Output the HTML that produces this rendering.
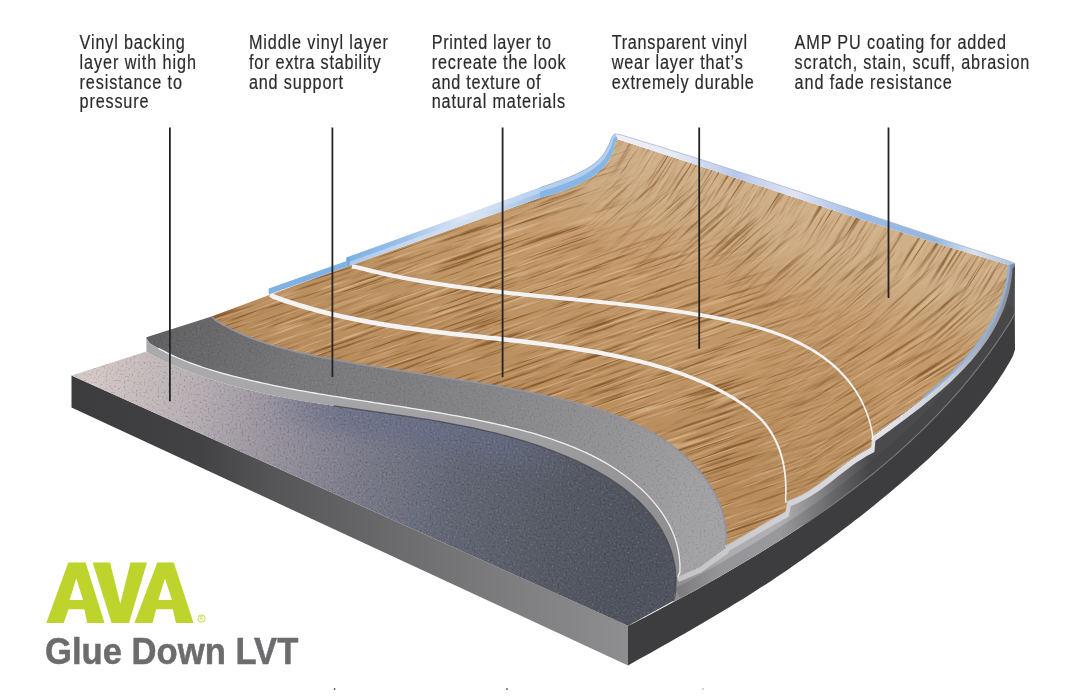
<!DOCTYPE html>
<html><head><meta charset="utf-8"><style>
html,body{margin:0;padding:0;background:#fff;width:1080px;height:699px;overflow:hidden}
svg{display:block}
</style></head><body>
<svg width="1080" height="699" viewBox="0 0 1080 699">
<rect width="1080" height="699" fill="#fff"/>
<defs>
<linearGradient id="gFront" x1="71" y1="0" x2="628" y2="0" gradientUnits="userSpaceOnUse">
 <stop offset="0" stop-color="#3c3c3e"/><stop offset="0.23" stop-color="#424244"/><stop offset="0.36" stop-color="#555557"/>
 <stop offset="0.59" stop-color="#6c6c6e"/><stop offset="0.77" stop-color="#7c7c7e"/><stop offset="1" stop-color="#8e8e90"/>
</linearGradient>
<linearGradient id="gSlabTop" x1="90" y1="380" x2="640" y2="500" gradientUnits="userSpaceOnUse">
 <stop offset="0" stop-color="rgb(212,200,197)"/><stop offset="0.19" stop-color="rgb(182,174,179)"/><stop offset="0.3" stop-color="rgb(160,153,163)"/>
 <stop offset="0.49" stop-color="rgb(125,125,140)"/><stop offset="0.67" stop-color="rgb(100,104,118)"/><stop offset="0.87" stop-color="rgb(86,90,100)"/>
 <stop offset="1" stop-color="rgb(80,84,94)"/>
</linearGradient>
<linearGradient id="gBlueBand" x1="260" y1="0" x2="580" y2="0" gradientUnits="userSpaceOnUse">
 <stop offset="0" stop-color="rgb(106,112,138)" stop-opacity="0"/><stop offset="0.25" stop-color="rgb(106,112,138)" stop-opacity="0.75"/>
 <stop offset="0.75" stop-color="rgb(102,108,134)" stop-opacity="0.7"/><stop offset="1" stop-color="rgb(96,102,124)" stop-opacity="0"/>
</linearGradient>
<filter id="blur8" x="-20%" y="-20%" width="140%" height="140%"><feGaussianBlur stdDeviation="9"/></filter>
<linearGradient id="gGreyTop" x1="150" y1="330" x2="700" y2="540" gradientUnits="userSpaceOnUse">
 <stop offset="0" stop-color="rgb(96,96,98)"/><stop offset="0.1" stop-color="rgb(105,105,107)"/><stop offset="0.27" stop-color="rgb(121,121,123)"/>
 <stop offset="0.45" stop-color="rgb(127,127,129)"/><stop offset="0.6" stop-color="rgb(135,135,137)"/><stop offset="0.78" stop-color="rgb(146,146,148)"/>
 <stop offset="0.95" stop-color="rgb(160,160,162)"/><stop offset="1" stop-color="rgb(163,163,165)"/>
</linearGradient>
<linearGradient id="gCut" x1="150" y1="0" x2="680" y2="0" gradientUnits="userSpaceOnUse">
 <stop offset="0" stop-color="rgb(170,170,172)"/><stop offset="0.3" stop-color="rgb(166,166,168)"/><stop offset="0.75" stop-color="rgb(158,158,160)"/><stop offset="1" stop-color="rgb(142,142,145)"/>
</linearGradient>
<linearGradient id="gWood" x1="707" y1="477" x2="800" y2="192" gradientUnits="userSpaceOnUse">
 <stop offset="0" stop-color="rgb(184,140,92)"/><stop offset="0.62" stop-color="rgb(197,155,108)"/><stop offset="0.84" stop-color="rgb(206,174,135)"/><stop offset="1" stop-color="rgb(209,178,140)"/>
</linearGradient>
<linearGradient id="gxL" x1="740" y1="0" x2="880" y2="0" gradientUnits="userSpaceOnUse"><stop offset="0" stop-color="#fff"/><stop offset="1" stop-color="#fff" stop-opacity="0"/></linearGradient>
<mask id="mxL" maskUnits="userSpaceOnUse" x="0" y="0" width="1080" height="699"><rect x="0" y="0" width="1080" height="699" fill="url(#gxL)"/></mask>
<linearGradient id="gxR" x1="740" y1="0" x2="880" y2="0" gradientUnits="userSpaceOnUse"><stop offset="0" stop-color="#fff" stop-opacity="0"/><stop offset="1" stop-color="#fff"/></linearGradient>
<mask id="mxR" maskUnits="userSpaceOnUse" x="0" y="0" width="1080" height="699"><rect x="0" y="0" width="1080" height="699" fill="url(#gxR)"/></mask>
<linearGradient id="gzA" x1="800" y1="192" x2="707" y2="477" gradientUnits="userSpaceOnUse"><stop offset="0" stop-color="#fff" stop-opacity="1"/><stop offset="0.067" stop-color="#fff" stop-opacity="1"/><stop offset="0.2" stop-color="#fff" stop-opacity="0"/></linearGradient>
<mask id="mzA" maskUnits="userSpaceOnUse" x="0" y="0" width="1080" height="699"><rect x="0" y="0" width="1080" height="699" fill="url(#gzA)"/></mask>
<linearGradient id="gzB" x1="800" y1="192" x2="707" y2="477" gradientUnits="userSpaceOnUse"><stop offset="0.067" stop-color="#fff" stop-opacity="0"/><stop offset="0.2" stop-color="#fff" stop-opacity="1"/><stop offset="0.267" stop-color="#fff" stop-opacity="1"/><stop offset="0.4" stop-color="#fff" stop-opacity="0"/></linearGradient>
<mask id="mzB" maskUnits="userSpaceOnUse" x="0" y="0" width="1080" height="699"><rect x="0" y="0" width="1080" height="699" fill="url(#gzB)"/></mask>
<linearGradient id="gzC" x1="800" y1="192" x2="707" y2="477" gradientUnits="userSpaceOnUse"><stop offset="0.267" stop-color="#fff" stop-opacity="0"/><stop offset="0.4" stop-color="#fff" stop-opacity="1"/><stop offset="0.5" stop-color="#fff" stop-opacity="1"/><stop offset="0.667" stop-color="#fff" stop-opacity="0"/></linearGradient>
<mask id="mzC" maskUnits="userSpaceOnUse" x="0" y="0" width="1080" height="699"><rect x="0" y="0" width="1080" height="699" fill="url(#gzC)"/></mask>
<linearGradient id="gzD" x1="800" y1="192" x2="707" y2="477" gradientUnits="userSpaceOnUse"><stop offset="0.5" stop-color="#fff" stop-opacity="0"/><stop offset="0.667" stop-color="#fff" stop-opacity="1"/></linearGradient>
<mask id="mzD" maskUnits="userSpaceOnUse" x="0" y="0" width="1080" height="699"><rect x="0" y="0" width="1080" height="699" fill="url(#gzD)"/></mask>

<linearGradient id="gSideDark" x1="680" y1="0" x2="1015" y2="0" gradientUnits="userSpaceOnUse">
 <stop offset="0" stop-color="#000" stop-opacity="0"/><stop offset="0.45" stop-color="#3a3a3c" stop-opacity="0.55"/><stop offset="1" stop-color="#3a3a3c" stop-opacity="0.85"/>
</linearGradient>
<linearGradient id="gSide" x1="680" y1="0" x2="1015" y2="0" gradientUnits="userSpaceOnUse">
 <stop offset="0" stop-color="#8e8e90"/><stop offset="0.12" stop-color="#acacb0"/><stop offset="0.3" stop-color="#b0b0b4"/><stop offset="0.36" stop-color="#9a9a9d"/><stop offset="0.48" stop-color="#6a6a6c"/><stop offset="0.57" stop-color="#4a4a4c"/><stop offset="1" stop-color="#4c4c4e"/>
</linearGradient>
<linearGradient id="gSilver" x1="680" y1="0" x2="1015" y2="0" gradientUnits="userSpaceOnUse">
 <stop offset="0" stop-color="#c4c4c8"/><stop offset="0.3" stop-color="#d0d0d4"/><stop offset="0.5" stop-color="#dcdce0"/><stop offset="0.62" stop-color="#e4e4e8"/><stop offset="0.8" stop-color="#c8ced8"/><stop offset="0.9" stop-color="#a4acba"/><stop offset="1" stop-color="#848c9a"/>
</linearGradient>
<linearGradient id="gTopStrip" x1="615" y1="0" x2="1014" y2="0" gradientUnits="userSpaceOnUse">
 <stop offset="0" stop-color="#eef0f6"/><stop offset="0.15" stop-color="#e6eaf4"/><stop offset="0.3" stop-color="#b8c8ec"/><stop offset="0.45" stop-color="#dfe4f4"/>
 <stop offset="0.62" stop-color="#9cbbe6"/><stop offset="0.8" stop-color="#93b6e2"/><stop offset="0.9" stop-color="#d6e0f0"/><stop offset="1" stop-color="#a8c2e6"/>
</linearGradient>
<linearGradient id="gBackLo" x1="347" y1="0" x2="540" y2="0" gradientUnits="userSpaceOnUse">
 <stop offset="0" stop-color="#a9c8ec"/><stop offset="0.35" stop-color="#c8daf2"/><stop offset="0.7" stop-color="#d4e0f2"/><stop offset="1" stop-color="#9cc0ea"/>
</linearGradient>
<linearGradient id="gBackHi" x1="347" y1="0" x2="540" y2="0" gradientUnits="userSpaceOnUse">
 <stop offset="0" stop-color="#7cb0e2"/><stop offset="0.3" stop-color="#9cc0ea"/><stop offset="0.6" stop-color="#dce6f4"/><stop offset="1" stop-color="#b8d0f0"/>
</linearGradient>
<filter id="noise" x="0" y="0" width="100%" height="100%" color-interpolation-filters="sRGB">
 <feTurbulence type="fractalNoise" baseFrequency="0.5" numOctaves="3" seed="3" result="t"/>
 <feColorMatrix in="t" type="matrix" values="0 0 0 0 1  0 0 0 0 1  0 0 0 0 1  2.4 0 0 0 -1.45" result="lt"/>
 <feColorMatrix in="t" type="matrix" values="0 0 0 0 0  0 0 0 0 0  0 0 0 0 0  -2.6 0 0 0 1.15" result="dk"/>
 <feMerge result="m"><feMergeNode in="lt"/><feMergeNode in="dk"/></feMerge>
 <feComposite in="m" in2="SourceGraphic" operator="in"/>
</filter>
<filter id="grain" x="0" y="0" width="100%" height="100%" color-interpolation-filters="sRGB">
 <feTurbulence type="fractalNoise" baseFrequency="0.011 0.42" numOctaves="4" seed="7"/>
 <feColorMatrix type="matrix" values="0 0 0 0 0.47  0 0 0 0 0.29  0 0 0 0 0.12  5 0 0 0 -2.72"/>
 <feComposite in2="SourceGraphic" operator="in"/>
</filter>
<filter id="grainL" x="0" y="0" width="100%" height="100%" color-interpolation-filters="sRGB">
 <feTurbulence type="fractalNoise" baseFrequency="0.012 0.5" numOctaves="3" seed="11"/>
 <feColorMatrix type="matrix" values="0 0 0 0 0.88  0 0 0 0 0.76  0 0 0 0 0.60  -5 0 0 0 2.2"/>
 <feComposite in2="SourceGraphic" operator="in"/>
</filter>

<clipPath id="cWood"><path d="M211.5,316.5 L216.0,320.8 L221.1,323.8 L226.3,326.7 L231.6,329.4 L237.0,332.0 L242.5,334.5 L248.0,336.8 L253.6,339.0 L259.3,341.0 L265.1,343.0 L270.9,344.9 L276.8,346.6 L282.7,348.3 L288.6,349.9 L294.6,351.4 L300.6,352.8 L306.6,354.1 L312.6,355.4 L318.7,356.7 L324.7,357.9 L330.7,359.0 L336.7,360.2 L342.7,361.3 L348.7,362.3 L354.7,363.4 L360.7,364.4 L366.6,365.4 L372.6,366.4 L378.5,367.3 L384.4,368.3 L390.3,369.2 L396.2,370.2 L402.1,371.1 L408.0,372.0 L413.9,372.9 L419.8,373.8 L425.7,374.7 L431.6,375.6 L437.5,376.5 L443.4,377.4 L449.3,378.3 L455.2,379.2 L461.1,380.2 L467.0,381.1 L472.9,382.1 L478.9,383.1 L484.8,384.1 L490.7,385.1 L496.7,386.1 L502.7,387.2 L508.6,388.3 L514.6,389.4 L520.7,390.6 L526.7,391.8 L532.7,393.0 L538.8,394.2 L544.8,395.5 L550.9,396.9 L557.0,398.3 L563.1,399.7 L569.1,401.2 L575.2,402.8 L581.2,404.5 L587.2,406.2 L593.1,408.0 L599.0,409.8 L604.9,411.8 L610.7,413.9 L616.5,416.0 L622.2,418.3 L627.8,420.6 L633.3,423.1 L638.8,425.7 L644.2,428.4 L649.4,431.2 L654.6,434.1 L659.7,437.2 L664.7,440.4 L669.5,443.8 L674.3,447.3 L678.9,451.0 L683.3,454.8 L687.7,458.7 L691.9,462.9 L695.9,467.2 L699.8,471.7 L703.5,476.3 L707.0,481.1 L710.3,486.1 L713.4,491.3 L716.2,496.6 L718.7,502.1 L720.9,507.8 L722.7,513.6 L724.2,519.6 L725.3,525.7 L726.0,532.0 L726.3,538.5 L725.8,544.4 L726.0,545.6 L732.0,542.2 L737.9,538.8 L743.8,535.4 L749.8,531.9 L755.7,528.5 L761.6,525.0 L767.6,521.6 L773.5,518.2 L779.5,514.8 L785.5,511.5 L787.5,500.9 L795.3,497.7 L802.8,494.0 L809.9,489.8 L816.8,485.2 L823.5,480.3 L830.1,475.3 L836.6,470.2 L843.2,465.1 L849.8,460.1 L856.6,455.4 L863.7,451.0 L871.0,447.0 L872.0,436.0 L876.1,433.4 L879.6,430.8 L883.2,428.1 L886.9,425.5 L890.5,422.8 L894.2,420.1 L897.9,417.4 L901.6,414.6 L905.3,411.9 L909.0,409.0 L912.8,406.2 L916.5,403.3 L920.2,400.4 L923.8,397.5 L927.5,394.5 L931.1,391.5 L934.7,388.5 L938.3,385.4 L941.8,382.3 L945.3,379.2 L948.8,376.0 L952.2,372.7 L955.5,369.4 L958.8,366.1 L962.1,362.7 L965.2,359.3 L968.3,355.9 L971.3,352.3 L974.2,348.8 L977.1,345.1 L979.8,341.5 L982.5,337.7 L985.1,334.0 L987.5,330.1 L989.9,326.2 L992.1,322.3 L994.2,318.2 L996.2,314.1 L998.1,310.0 L999.9,305.8 L1001.5,301.5 L1003.0,297.2 L1004.3,292.8 L1005.5,288.3 L1006.5,283.7 L1007.4,279.1 L1008.1,274.4 L1008.7,269.7 L1008.7,265.0 L1008.7,265.0 L1002.1,262.9 L995.4,260.9 L988.7,259.0 L982.0,257.0 L975.4,255.0 L968.7,253.0 L962.0,251.0 L955.4,249.0 L948.7,246.9 L942.1,244.9 L935.4,242.8 L928.8,240.8 L922.2,238.7 L915.5,236.6 L908.9,234.5 L902.2,232.4 L895.6,230.3 L889.0,228.2 L882.4,226.1 L875.7,224.0 L869.1,221.8 L862.5,219.7 L855.9,217.6 L849.3,215.4 L842.6,213.2 L836.0,211.1 L829.4,208.9 L822.8,206.8 L816.2,204.6 L809.6,202.4 L803.0,200.2 L796.4,198.0 L789.8,195.9 L783.2,193.7 L776.6,191.5 L770.0,189.3 L763.4,187.1 L756.8,184.9 L750.2,182.7 L743.5,180.5 L736.9,178.4 L730.3,176.2 L723.7,174.0 L717.1,171.8 L710.5,169.6 L703.9,167.4 L697.3,165.2 L690.7,163.1 L684.1,160.9 L677.5,158.7 L670.9,156.6 L664.3,154.4 L657.6,152.2 L651.0,150.1 L644.4,147.9 L637.8,145.8 L631.2,143.7 L624.6,141.5 L617.9,139.5 L617.9,139.5 C617.5,139.9 616.5,139.5 615.6,142.0 C614.7,144.5 614.3,150.1 612.2,154.4 C610.1,158.7 607.4,163.6 603.0,168.0 C598.6,172.4 592.5,176.9 585.8,180.7 C579.1,184.5 570.5,188.1 562.9,191.0 C555.3,193.9 543.8,196.8 540.0,197.9 L540.0,197.9 L346.6,266.7 L268.7,295.3 L211.5,316.5 Z"/></clipPath>
<clipPath id="cSlabTop"><path d="M71.5,375.5 L146.4,351.5 L146.4,351.5 L150.5,354.3 L155.4,356.8 L160.2,359.1 L165.1,361.4 L170.0,363.6 L174.9,365.8 L179.9,367.9 L184.8,369.9 L189.8,371.8 L194.8,373.7 L199.8,375.5 L204.8,377.2 L209.8,378.9 L214.9,380.5 L219.9,382.0 L225.0,383.6 L230.1,385.0 L235.2,386.4 L240.3,387.8 L245.4,389.1 L250.5,390.3 L255.7,391.5 L260.8,392.7 L266.0,393.9 L271.2,395.0 L276.3,396.0 L281.5,397.0 L286.7,398.0 L291.9,399.0 L297.2,399.9 L302.4,400.9 L307.6,401.7 L312.8,402.6 L318.1,403.4 L323.3,404.3 L328.6,405.1 L333.8,405.9 L339.1,406.6 L344.3,407.4 L349.6,408.2 L354.8,408.9 L360.1,409.7 L365.4,410.4 L370.6,411.1 L375.9,411.9 L381.2,412.6 L386.4,413.4 L391.7,414.1 L397.0,414.9 L402.2,415.6 L407.5,416.4 L412.7,417.2 L418.0,418.0 L423.2,418.8 L428.5,419.7 L433.7,420.5 L439.0,421.4 L444.2,422.3 L449.4,423.3 L454.6,424.3 L459.8,425.3 L465.0,426.3 L470.2,427.3 L475.4,428.4 L480.6,429.6 L485.8,430.8 L490.9,432.0 L496.1,433.2 L501.2,434.5 L506.3,435.9 L511.5,437.3 L516.6,438.8 L521.7,440.3 L526.7,441.8 L531.8,443.5 L536.9,445.1 L541.9,446.9 L546.9,448.7 L551.9,450.6 L556.9,452.5 L561.9,454.5 L566.9,456.6 L571.8,458.7 L576.7,460.9 L581.6,463.2 L586.4,465.6 L591.2,468.1 L596.0,470.6 L600.6,473.2 L605.3,476.0 L609.8,478.8 L614.2,481.7 L618.6,484.7 L622.9,487.8 L627.0,491.0 L631.1,494.4 L635.0,497.8 L638.8,501.3 L642.5,505.0 L646.0,508.8 L649.4,512.6 L652.6,516.7 L655.7,520.8 L658.6,525.1 L661.3,529.4 L663.9,534.0 L666.2,538.6 L668.3,543.3 L670.2,548.2 L671.9,553.2 L673.3,558.2 L674.4,563.4 L675.3,568.7 L675.8,574.1 L676.1,579.5 L676.0,585.1 L675.6,590.7 L674.9,596.4 L673.2,601.0 L628.0,625.8 Z"/></clipPath>
<clipPath id="cGreyTop"><path d="M146.4,337.2 L211.5,316.5 L211.5,316.5 L216.0,320.8 L221.1,323.8 L226.3,326.7 L231.6,329.4 L237.0,332.0 L242.5,334.5 L248.0,336.8 L253.6,339.0 L259.3,341.0 L265.1,343.0 L270.9,344.9 L276.8,346.6 L282.7,348.3 L288.6,349.9 L294.6,351.4 L300.6,352.8 L306.6,354.1 L312.6,355.4 L318.7,356.7 L324.7,357.9 L330.7,359.0 L336.7,360.2 L342.7,361.3 L348.7,362.3 L354.7,363.4 L360.7,364.4 L366.6,365.4 L372.6,366.4 L378.5,367.3 L384.4,368.3 L390.3,369.2 L396.2,370.2 L402.1,371.1 L408.0,372.0 L413.9,372.9 L419.8,373.8 L425.7,374.7 L431.6,375.6 L437.5,376.5 L443.4,377.4 L449.3,378.3 L455.2,379.2 L461.1,380.2 L467.0,381.1 L472.9,382.1 L478.9,383.1 L484.8,384.1 L490.7,385.1 L496.7,386.1 L502.7,387.2 L508.6,388.3 L514.6,389.4 L520.7,390.6 L526.7,391.8 L532.7,393.0 L538.8,394.2 L544.8,395.5 L550.9,396.9 L557.0,398.3 L563.1,399.7 L569.1,401.2 L575.2,402.8 L581.2,404.5 L587.2,406.2 L593.1,408.0 L599.0,409.8 L604.9,411.8 L610.7,413.9 L616.5,416.0 L622.2,418.3 L627.8,420.6 L633.3,423.1 L638.8,425.7 L644.2,428.4 L649.4,431.2 L654.6,434.1 L659.7,437.2 L664.7,440.4 L669.5,443.8 L674.3,447.3 L678.9,451.0 L683.3,454.8 L687.7,458.7 L691.9,462.9 L695.9,467.2 L699.8,471.7 L703.5,476.3 L707.0,481.1 L710.3,486.1 L713.4,491.3 L716.2,496.6 L718.7,502.1 L720.9,507.8 L722.7,513.6 L724.2,519.6 L725.3,525.7 L726.0,532.0 L726.3,538.5 L725.8,544.4 L725.6,548.4 L700,567.2 L677.8,577 L677.8,577.0 L679.9,572.1 L680.0,566.5 L679.7,561.0 L679.1,555.6 L678.2,550.3 L677.1,545.1 L675.6,540.1 L673.9,535.2 L671.9,530.4 L669.7,525.8 L667.2,521.2 L664.6,516.8 L661.7,512.5 L658.7,508.4 L655.6,504.3 L652.2,500.4 L648.8,496.6 L645.2,492.9 L641.5,489.3 L637.7,485.9 L633.8,482.5 L629.8,479.3 L625.8,476.2 L621.6,473.2 L617.4,470.3 L613.1,467.5 L608.7,464.8 L604.3,462.1 L599.7,459.6 L595.1,457.2 L590.5,454.9 L585.8,452.6 L581.0,450.5 L576.2,448.4 L571.3,446.4 L566.4,444.4 L561.4,442.6 L556.4,440.8 L551.4,439.0 L546.3,437.4 L541.2,435.8 L536.1,434.2 L530.9,432.7 L525.8,431.3 L520.6,429.9 L515.4,428.6 L510.2,427.3 L505.0,426.0 L499.7,424.8 L494.5,423.6 L489.3,422.5 L484.1,421.4 L478.9,420.3 L473.7,419.2 L468.5,418.2 L463.3,417.2 L458.1,416.2 L452.9,415.3 L447.7,414.4 L442.5,413.4 L437.4,412.5 L432.2,411.7 L427.0,410.8 L421.9,410.0 L416.7,409.1 L411.5,408.3 L406.4,407.5 L401.2,406.7 L396.1,405.9 L391.0,405.1 L385.8,404.3 L380.7,403.5 L375.5,402.8 L370.4,402.0 L365.3,401.2 L360.2,400.4 L355.0,399.6 L349.9,398.8 L344.8,398.0 L339.6,397.2 L334.5,396.4 L329.4,395.6 L324.3,394.7 L319.2,393.9 L314.0,393.0 L308.9,392.1 L303.8,391.2 L298.7,390.3 L293.6,389.3 L288.4,388.4 L283.3,387.4 L278.2,386.4 L273.1,385.3 L267.9,384.2 L262.8,383.1 L257.7,382.0 L252.6,380.8 L247.4,379.6 L242.3,378.4 L237.2,377.1 L232.0,375.8 L226.9,374.5 L221.8,373.1 L216.7,371.6 L211.6,370.1 L206.5,368.5 L201.5,366.9 L196.5,365.1 L191.6,363.3 L186.6,361.5 L181.8,359.5 L177.0,357.5 L172.2,355.3 L167.5,353.1 L162.9,350.7 L158.3,348.3 L153.8,345.7 L149.4,343.0 L146.4,338.6 Z"/></clipPath>
</defs>
<path d="M71.5,375.5 L628.0,625.8 L628.0,665.5 L71.5,407.5 Z" fill="url(#gFront)"/>
<path d="M628.0,625.8 L634.0,623.0 L639.6,620.1 L645.2,617.2 L650.8,614.2 L656.4,611.3 L661.9,608.3 L667.5,605.3 L673.1,602.3 L678.7,599.3 L684.3,596.3 L689.9,593.2 L695.5,590.2 L701.1,587.1 L706.6,584.0 L712.2,580.8 L717.8,577.7 L723.3,574.5 L728.9,571.3 L734.4,568.1 L739.9,564.8 L745.4,561.6 L750.9,558.3 L756.4,554.9 L761.9,551.6 L767.4,548.2 L772.8,544.8 L778.2,541.4 L783.6,537.9 L789.0,534.5 L794.4,530.9 L799.8,527.4 L805.1,523.8 L810.4,520.2 L815.7,516.6 L820.9,512.9 L826.2,509.2 L831.4,505.5 L836.6,501.7 L841.7,498.0 L846.8,494.1 L851.9,490.3 L857.0,486.4 L862.1,482.4 L867.1,478.5 L872.0,474.5 L877.0,470.4 L881.9,466.3 L886.8,462.2 L891.6,458.1 L896.4,453.9 L901.2,449.7 L905.9,445.4 L910.6,441.1 L915.2,436.7 L919.8,432.3 L924.4,427.9 L928.9,423.4 L933.3,418.9 L937.8,414.3 L942.2,409.7 L946.5,405.0 L950.8,400.4 L955.0,395.6 L959.2,390.8 L963.4,386.0 L967.4,381.1 L971.5,376.2 L975.5,371.2 L979.4,366.2 L983.3,361.1 L987.1,356.0 L990.9,350.8 L994.6,345.6 L998.2,340.3 L1001.8,334.9 L1005.3,329.6 L1008.8,324.1 L1012.2,318.6 L1014.8,312.9 L1015.0,349.4 L1013.1,355.6 L1010.1,361.2 L1006.8,366.8 L1003.5,372.2 L1000.0,377.6 L996.4,382.9 L992.8,388.1 L989.0,393.2 L985.1,398.3 L981.2,403.3 L977.1,408.2 L973.0,413.1 L968.8,417.9 L964.5,422.7 L960.2,427.4 L955.8,432.0 L951.3,436.6 L946.8,441.2 L942.3,445.7 L937.6,450.1 L933.0,454.5 L928.3,458.9 L923.5,463.2 L918.7,467.5 L913.9,471.8 L909.1,476.0 L904.2,480.2 L899.3,484.4 L894.4,488.5 L889.5,492.7 L884.6,496.8 L879.6,500.8 L874.6,504.9 L869.6,508.9 L864.6,512.9 L859.6,516.9 L854.5,520.8 L849.5,524.7 L844.4,528.6 L839.3,532.5 L834.2,536.3 L829.0,540.2 L823.9,544.0 L818.7,547.7 L813.5,551.5 L808.3,555.2 L803.1,559.0 L797.9,562.6 L792.6,566.3 L787.4,569.9 L782.1,573.5 L776.8,577.1 L771.4,580.7 L766.1,584.2 L760.7,587.6 L755.3,591.1 L749.9,594.5 L744.5,597.9 L739.1,601.3 L733.6,604.6 L728.1,608.0 L722.6,611.3 L717.1,614.6 L711.6,617.8 L706.1,621.1 L700.6,624.3 L695.0,627.5 L689.5,630.7 L683.9,633.9 L678.3,637.1 L672.8,640.3 L667.2,643.4 L661.6,646.6 L656.0,649.7 L650.4,652.9 L644.8,656.0 L639.2,659.1 L633.6,662.3 L628.0,665.5 Z" fill="#3d3d3f"/>
<path d="M71.5,375.5 L146.4,351.5 L146.4,351.5 L150.5,354.3 L155.4,356.8 L160.2,359.1 L165.1,361.4 L170.0,363.6 L174.9,365.8 L179.9,367.9 L184.8,369.9 L189.8,371.8 L194.8,373.7 L199.8,375.5 L204.8,377.2 L209.8,378.9 L214.9,380.5 L219.9,382.0 L225.0,383.6 L230.1,385.0 L235.2,386.4 L240.3,387.8 L245.4,389.1 L250.5,390.3 L255.7,391.5 L260.8,392.7 L266.0,393.9 L271.2,395.0 L276.3,396.0 L281.5,397.0 L286.7,398.0 L291.9,399.0 L297.2,399.9 L302.4,400.9 L307.6,401.7 L312.8,402.6 L318.1,403.4 L323.3,404.3 L328.6,405.1 L333.8,405.9 L339.1,406.6 L344.3,407.4 L349.6,408.2 L354.8,408.9 L360.1,409.7 L365.4,410.4 L370.6,411.1 L375.9,411.9 L381.2,412.6 L386.4,413.4 L391.7,414.1 L397.0,414.9 L402.2,415.6 L407.5,416.4 L412.7,417.2 L418.0,418.0 L423.2,418.8 L428.5,419.7 L433.7,420.5 L439.0,421.4 L444.2,422.3 L449.4,423.3 L454.6,424.3 L459.8,425.3 L465.0,426.3 L470.2,427.3 L475.4,428.4 L480.6,429.6 L485.8,430.8 L490.9,432.0 L496.1,433.2 L501.2,434.5 L506.3,435.9 L511.5,437.3 L516.6,438.8 L521.7,440.3 L526.7,441.8 L531.8,443.5 L536.9,445.1 L541.9,446.9 L546.9,448.7 L551.9,450.6 L556.9,452.5 L561.9,454.5 L566.9,456.6 L571.8,458.7 L576.7,460.9 L581.6,463.2 L586.4,465.6 L591.2,468.1 L596.0,470.6 L600.6,473.2 L605.3,476.0 L609.8,478.8 L614.2,481.7 L618.6,484.7 L622.9,487.8 L627.0,491.0 L631.1,494.4 L635.0,497.8 L638.8,501.3 L642.5,505.0 L646.0,508.8 L649.4,512.6 L652.6,516.7 L655.7,520.8 L658.6,525.1 L661.3,529.4 L663.9,534.0 L666.2,538.6 L668.3,543.3 L670.2,548.2 L671.9,553.2 L673.3,558.2 L674.4,563.4 L675.3,568.7 L675.8,574.1 L676.1,579.5 L676.0,585.1 L675.6,590.7 L674.9,596.4 L673.2,601.0 L628.0,625.8 Z" fill="url(#gSlabTop)"/>
<g clip-path="url(#cSlabTop)"><path d="M250.5,394.3 L255.7,395.5 L260.8,396.7 L266.0,397.9 L271.2,399.0 L276.3,400.0 L281.5,401.0 L286.7,402.0 L291.9,403.0 L297.2,403.9 L302.4,404.9 L307.6,405.7 L312.8,406.6 L318.1,407.4 L323.3,408.3 L328.6,409.1 L333.8,409.9 L339.1,410.6 L344.3,411.4 L349.6,412.2 L354.8,412.9 L360.1,413.7 L365.4,414.4 L370.6,415.1 L375.9,415.9 L381.2,416.6 L386.4,417.4 L391.7,418.1 L397.0,418.9 L402.2,419.6 L407.5,420.4 L412.7,421.2 L418.0,422.0 L423.2,422.8 L428.5,423.7 L433.7,424.5 L439.0,425.4 L444.2,426.3 L449.4,427.3 L454.6,428.3 L459.8,429.3 L465.0,430.3 L470.2,431.3 L475.4,432.4 L480.6,433.6 L485.8,434.8 L490.9,436.0 L496.1,437.2 L501.2,438.5 L506.3,439.9 L511.5,441.3 L516.6,442.8 L521.7,444.3 L526.7,445.8 L531.8,447.5 L536.9,449.1 L541.9,450.9 L546.9,452.7 L551.9,454.6 L556.9,456.5 L561.9,458.5 L566.9,460.6 L571.8,462.7 L576.7,464.9 L581.6,467.2 L586.4,469.6 L591.2,472.1 L596.0,474.6" fill="none" stroke="url(#gBlueBand)" stroke-width="44" filter="url(#blur8)"/></g>
<g clip-path="url(#cSlabTop)"><rect x="60" y="330" width="640" height="310" filter="url(#noise)" opacity="0.26"/></g>
<defs><clipPath id="cSide"><path d="M677.8,577.0 L700.0,567.5 L725.2,549.2 L726.0,545.6 L732.0,542.2 L737.9,538.8 L743.8,535.4 L749.8,531.9 L755.7,528.5 L761.6,525.0 L767.6,521.6 L773.5,518.2 L779.5,514.8 L785.5,511.5 L787.5,500.9 L795.3,497.7 L802.8,494.0 L809.9,489.8 L816.8,485.2 L823.5,480.3 L830.1,475.3 L836.6,470.2 L843.2,465.1 L849.8,460.1 L856.6,455.4 L863.7,451.0 L871.0,447.0 L872.0,436.0 L876.1,433.4 L879.6,430.8 L883.2,428.1 L886.9,425.5 L890.5,422.8 L894.2,420.1 L897.9,417.4 L901.6,414.6 L905.3,411.9 L909.0,409.0 L912.8,406.2 L916.5,403.3 L920.2,400.4 L923.8,397.5 L927.5,394.5 L931.1,391.5 L934.7,388.5 L938.3,385.4 L941.8,382.3 L945.3,379.2 L948.8,376.0 L952.2,372.7 L955.5,369.4 L958.8,366.1 L962.1,362.7 L965.2,359.3 L968.3,355.9 L971.3,352.3 L974.2,348.8 L977.1,345.1 L979.8,341.5 L982.5,337.7 L985.1,334.0 L987.5,330.1 L989.9,326.2 L992.1,322.3 L994.2,318.2 L996.2,314.1 L998.1,310.0 L999.9,305.8 L1001.5,301.5 L1003.0,297.2 L1004.3,292.8 L1005.5,288.3 L1006.5,283.7 L1007.4,279.1 L1008.1,274.4 L1008.7,269.7 L1008.7,265.0 L1014,263 L1015,263 L1014.8,312.9 L1012.2,318.6 L1008.8,324.1 L1005.3,329.6 L1001.8,334.9 L998.2,340.3 L994.6,345.6 L990.9,350.8 L987.1,356.0 L983.3,361.1 L979.4,366.2 L975.5,371.2 L971.5,376.2 L967.4,381.1 L963.4,386.0 L959.2,390.8 L955.0,395.6 L950.8,400.4 L946.5,405.0 L942.2,409.7 L937.8,414.3 L933.3,418.9 L928.9,423.4 L924.4,427.9 L919.8,432.3 L915.2,436.7 L910.6,441.1 L905.9,445.4 L901.2,449.7 L896.4,453.9 L891.6,458.1 L886.8,462.2 L881.9,466.3 L877.0,470.4 L872.0,474.5 L867.1,478.5 L862.1,482.4 L857.0,486.4 L851.9,490.3 L846.8,494.1 L841.7,498.0 L836.6,501.7 L831.4,505.5 L826.2,509.2 L820.9,512.9 L815.7,516.6 L810.4,520.2 L805.1,523.8 L799.8,527.4 L794.4,530.9 L789.0,534.5 L783.6,537.9 L778.2,541.4 L772.8,544.8 L767.4,548.2 L761.9,551.6 L756.4,554.9 L750.9,558.3 L745.4,561.6 L739.9,564.8 L734.4,568.1 L728.9,571.3 L723.3,574.5 L717.8,577.7 L712.2,580.8 L706.6,584.0 L701.1,587.1 L695.5,590.2 L689.9,593.2 L684.3,596.3 L678.7,599.3 L673.2,602.0 Z"/></clipPath></defs>
<path d="M677.8,577.0 L700.0,567.5 L725.2,549.2 L726.0,545.6 L732.0,542.2 L737.9,538.8 L743.8,535.4 L749.8,531.9 L755.7,528.5 L761.6,525.0 L767.6,521.6 L773.5,518.2 L779.5,514.8 L785.5,511.5 L787.5,500.9 L795.3,497.7 L802.8,494.0 L809.9,489.8 L816.8,485.2 L823.5,480.3 L830.1,475.3 L836.6,470.2 L843.2,465.1 L849.8,460.1 L856.6,455.4 L863.7,451.0 L871.0,447.0 L872.0,436.0 L876.1,433.4 L879.6,430.8 L883.2,428.1 L886.9,425.5 L890.5,422.8 L894.2,420.1 L897.9,417.4 L901.6,414.6 L905.3,411.9 L909.0,409.0 L912.8,406.2 L916.5,403.3 L920.2,400.4 L923.8,397.5 L927.5,394.5 L931.1,391.5 L934.7,388.5 L938.3,385.4 L941.8,382.3 L945.3,379.2 L948.8,376.0 L952.2,372.7 L955.5,369.4 L958.8,366.1 L962.1,362.7 L965.2,359.3 L968.3,355.9 L971.3,352.3 L974.2,348.8 L977.1,345.1 L979.8,341.5 L982.5,337.7 L985.1,334.0 L987.5,330.1 L989.9,326.2 L992.1,322.3 L994.2,318.2 L996.2,314.1 L998.1,310.0 L999.9,305.8 L1001.5,301.5 L1003.0,297.2 L1004.3,292.8 L1005.5,288.3 L1006.5,283.7 L1007.4,279.1 L1008.1,274.4 L1008.7,269.7 L1008.7,265.0 L1014,263 L1015,263 L1014.8,312.9 L1012.2,318.6 L1008.8,324.1 L1005.3,329.6 L1001.8,334.9 L998.2,340.3 L994.6,345.6 L990.9,350.8 L987.1,356.0 L983.3,361.1 L979.4,366.2 L975.5,371.2 L971.5,376.2 L967.4,381.1 L963.4,386.0 L959.2,390.8 L955.0,395.6 L950.8,400.4 L946.5,405.0 L942.2,409.7 L937.8,414.3 L933.3,418.9 L928.9,423.4 L924.4,427.9 L919.8,432.3 L915.2,436.7 L910.6,441.1 L905.9,445.4 L901.2,449.7 L896.4,453.9 L891.6,458.1 L886.8,462.2 L881.9,466.3 L877.0,470.4 L872.0,474.5 L867.1,478.5 L862.1,482.4 L857.0,486.4 L851.9,490.3 L846.8,494.1 L841.7,498.0 L836.6,501.7 L831.4,505.5 L826.2,509.2 L820.9,512.9 L815.7,516.6 L810.4,520.2 L805.1,523.8 L799.8,527.4 L794.4,530.9 L789.0,534.5 L783.6,537.9 L778.2,541.4 L772.8,544.8 L767.4,548.2 L761.9,551.6 L756.4,554.9 L750.9,558.3 L745.4,561.6 L739.9,564.8 L734.4,568.1 L728.9,571.3 L723.3,574.5 L717.8,577.7 L712.2,580.8 L706.6,584.0 L701.1,587.1 L695.5,590.2 L689.9,593.2 L684.3,596.3 L678.7,599.3 L673.2,602.0 Z" fill="url(#gSide)"/>
<path d="M677.5,593.3 L683.1,590.3 L688.7,587.2 L694.3,584.2 L699.9,581.1 L705.4,578.0 L711.0,574.8 L716.6,571.7 L722.1,568.5 L727.7,565.3 L733.2,562.1 L738.7,558.8 L744.2,555.6 L749.7,552.3 L755.2,548.9 L760.7,545.6 L766.2,542.2 L771.6,538.8 L777.0,535.4 L782.4,531.9 L787.8,528.5 L793.2,524.9 L798.6,521.4 L803.9,517.8 L809.2,514.2 L814.5,510.6 L819.7,506.9 L825.0,503.2 L830.2,499.5 L835.4,495.7 L840.5,492.0 L845.6,488.1 L850.7,484.3 L855.8,480.4 L860.9,476.4 L865.9,472.5 L870.8,468.5 L875.8,464.4 L880.7,460.3 L885.6,456.2 L890.4,452.1 L895.2,447.9 L900.0,443.7 L904.7,439.4 L909.4,435.1 L914.0,430.7 L918.6,426.3 L923.2,421.9 L927.7,417.4 L932.1,412.9 L936.6,408.3 L941.0,403.7 L945.3,399.0 L949.6,394.4 L953.8,389.6 L958.0,384.8 L962.2,380.0 L966.2,375.1 L970.3,370.2 L974.3,365.2 L978.2,360.2 L982.1,355.1 L985.9,350.0 L989.7,344.8 L993.4,339.6 L997.0,334.3 L1000.6,328.9 L1004.1,323.6 L1007.6,318.1 L1011.0,312.6 L1013.6,306.9" fill="none" stroke="#303034" stroke-width="11" opacity="0.18" clip-path="url(#cSide)"/>
<path d="M805.1,523.8 L810.4,520.2 L815.7,516.6 L820.9,512.9 L826.2,509.2 L831.4,505.5 L836.6,501.7 L841.7,498.0 L846.8,494.1 L851.9,490.3 L857.0,486.4 L862.1,482.4 L867.1,478.5 L872.0,474.5 L877.0,470.4 L881.9,466.3 L886.8,462.2 L891.6,458.1 L896.4,453.9 L901.2,449.7 L905.9,445.4 L910.6,441.1 L915.2,436.7 L919.8,432.3 L924.4,427.9 L928.9,423.4 L933.3,418.9 L937.8,414.3 L942.2,409.7 L946.5,405.0 L950.8,400.4 L955.0,395.6 L959.2,390.8 L963.4,386.0 L967.4,381.1 L971.5,376.2 L975.5,371.2 L979.4,366.2 L983.3,361.1 L987.1,356.0 L990.9,350.8 L994.6,345.6 L998.2,340.3 L1001.8,334.9 L1005.3,329.6 L1008.8,324.1 L1012.2,318.6 L1014.8,312.9" fill="none" stroke="#77777a" stroke-width="1.1"/>
<path d="M677.8,579.5 L700.0,569.8 L725.8,551.5 L726.8,548.8 L732.8,545.4 L738.7,542.0 L744.6,538.6 L750.6,535.1 L756.5,531.7 L762.4,528.2 L768.4,524.8 L774.3,521.4 L780.3,518.0 L786.3,514.7 L788.3,504.1 L796.1,500.9 L803.6,497.2 L810.7,493.0 L817.6,488.4 L824.3,483.5 L830.9,478.5 L837.4,473.4 L844.0,468.3 L850.6,463.3 L857.4,458.6 L864.5,454.2 L871.8,450.2 L872.8,439.2 L876.9,436.6 L880.4,434.0 L884.0,431.3 L887.7,428.7 L891.3,426.0 L895.0,423.3 L898.7,420.6 L902.4,417.8 L906.1,415.1 L909.8,412.2 L913.6,409.4 L917.3,406.5 L921.0,403.6 L924.6,400.7 L928.3,397.7 L931.9,394.7 L935.5,391.7 L939.1,388.6 L942.6,385.5 L946.1,382.4 L949.6,379.2 L953.0,375.9 L956.3,372.6 L959.6,369.3 L962.9,365.9 L966.0,362.5 L969.1,359.1 L972.1,355.5 L975.0,352.0 L977.9,348.3 L980.6,344.7 L983.3,340.9 L985.9,337.2 L988.3,333.3 L990.7,329.4 L992.9,325.5 L995.0,321.4 L997.0,317.3 L998.9,313.2 L1000.7,309.0 L1002.3,304.7 L1003.8,300.4 L1005.1,296.0 L1006.3,291.5 L1007.3,286.9 L1008.2,282.3 L1008.9,277.6 L1009.5,272.9 L1009.5,268.2 L1014.0,262.0" fill="none" stroke="url(#gSilver)" stroke-width="5.5" clip-path="url(#cSide)"/>
<path d="M146.4,337.2 L211.5,316.5 L211.5,316.5 L216.0,320.8 L221.1,323.8 L226.3,326.7 L231.6,329.4 L237.0,332.0 L242.5,334.5 L248.0,336.8 L253.6,339.0 L259.3,341.0 L265.1,343.0 L270.9,344.9 L276.8,346.6 L282.7,348.3 L288.6,349.9 L294.6,351.4 L300.6,352.8 L306.6,354.1 L312.6,355.4 L318.7,356.7 L324.7,357.9 L330.7,359.0 L336.7,360.2 L342.7,361.3 L348.7,362.3 L354.7,363.4 L360.7,364.4 L366.6,365.4 L372.6,366.4 L378.5,367.3 L384.4,368.3 L390.3,369.2 L396.2,370.2 L402.1,371.1 L408.0,372.0 L413.9,372.9 L419.8,373.8 L425.7,374.7 L431.6,375.6 L437.5,376.5 L443.4,377.4 L449.3,378.3 L455.2,379.2 L461.1,380.2 L467.0,381.1 L472.9,382.1 L478.9,383.1 L484.8,384.1 L490.7,385.1 L496.7,386.1 L502.7,387.2 L508.6,388.3 L514.6,389.4 L520.7,390.6 L526.7,391.8 L532.7,393.0 L538.8,394.2 L544.8,395.5 L550.9,396.9 L557.0,398.3 L563.1,399.7 L569.1,401.2 L575.2,402.8 L581.2,404.5 L587.2,406.2 L593.1,408.0 L599.0,409.8 L604.9,411.8 L610.7,413.9 L616.5,416.0 L622.2,418.3 L627.8,420.6 L633.3,423.1 L638.8,425.7 L644.2,428.4 L649.4,431.2 L654.6,434.1 L659.7,437.2 L664.7,440.4 L669.5,443.8 L674.3,447.3 L678.9,451.0 L683.3,454.8 L687.7,458.7 L691.9,462.9 L695.9,467.2 L699.8,471.7 L703.5,476.3 L707.0,481.1 L710.3,486.1 L713.4,491.3 L716.2,496.6 L718.7,502.1 L720.9,507.8 L722.7,513.6 L724.2,519.6 L725.3,525.7 L726.0,532.0 L726.3,538.5 L725.8,544.4 L725.6,548.4 L700,567.2 L677.8,577 L677.8,577.0 L679.9,572.1 L680.0,566.5 L679.7,561.0 L679.1,555.6 L678.2,550.3 L677.1,545.1 L675.6,540.1 L673.9,535.2 L671.9,530.4 L669.7,525.8 L667.2,521.2 L664.6,516.8 L661.7,512.5 L658.7,508.4 L655.6,504.3 L652.2,500.4 L648.8,496.6 L645.2,492.9 L641.5,489.3 L637.7,485.9 L633.8,482.5 L629.8,479.3 L625.8,476.2 L621.6,473.2 L617.4,470.3 L613.1,467.5 L608.7,464.8 L604.3,462.1 L599.7,459.6 L595.1,457.2 L590.5,454.9 L585.8,452.6 L581.0,450.5 L576.2,448.4 L571.3,446.4 L566.4,444.4 L561.4,442.6 L556.4,440.8 L551.4,439.0 L546.3,437.4 L541.2,435.8 L536.1,434.2 L530.9,432.7 L525.8,431.3 L520.6,429.9 L515.4,428.6 L510.2,427.3 L505.0,426.0 L499.7,424.8 L494.5,423.6 L489.3,422.5 L484.1,421.4 L478.9,420.3 L473.7,419.2 L468.5,418.2 L463.3,417.2 L458.1,416.2 L452.9,415.3 L447.7,414.4 L442.5,413.4 L437.4,412.5 L432.2,411.7 L427.0,410.8 L421.9,410.0 L416.7,409.1 L411.5,408.3 L406.4,407.5 L401.2,406.7 L396.1,405.9 L391.0,405.1 L385.8,404.3 L380.7,403.5 L375.5,402.8 L370.4,402.0 L365.3,401.2 L360.2,400.4 L355.0,399.6 L349.9,398.8 L344.8,398.0 L339.6,397.2 L334.5,396.4 L329.4,395.6 L324.3,394.7 L319.2,393.9 L314.0,393.0 L308.9,392.1 L303.8,391.2 L298.7,390.3 L293.6,389.3 L288.4,388.4 L283.3,387.4 L278.2,386.4 L273.1,385.3 L267.9,384.2 L262.8,383.1 L257.7,382.0 L252.6,380.8 L247.4,379.6 L242.3,378.4 L237.2,377.1 L232.0,375.8 L226.9,374.5 L221.8,373.1 L216.7,371.6 L211.6,370.1 L206.5,368.5 L201.5,366.9 L196.5,365.1 L191.6,363.3 L186.6,361.5 L181.8,359.5 L177.0,357.5 L172.2,355.3 L167.5,353.1 L162.9,350.7 L158.3,348.3 L153.8,345.7 L149.4,343.0 L146.4,338.6 Z" fill="url(#gGreyTop)"/>
<g clip-path="url(#cGreyTop)"><rect x="140" y="300" width="600" height="290" filter="url(#noise)" opacity="0.16"/></g>
<path d="M146.4,338.6 L149.4,343.0 L153.8,345.7 L158.3,348.3 L162.9,350.7 L167.5,353.1 L172.2,355.3 L177.0,357.5 L181.8,359.5 L186.6,361.5 L191.6,363.3 L196.5,365.1 L201.5,366.9 L206.5,368.5 L211.6,370.1 L216.7,371.6 L221.8,373.1 L226.9,374.5 L232.0,375.8 L237.2,377.1 L242.3,378.4 L247.4,379.6 L252.6,380.8 L257.7,382.0 L262.8,383.1 L267.9,384.2 L273.1,385.3 L278.2,386.4 L283.3,387.4 L288.4,388.4 L293.6,389.3 L298.7,390.3 L303.8,391.2 L308.9,392.1 L314.0,393.0 L319.2,393.9 L324.3,394.7 L329.4,395.6 L334.5,396.4 L339.6,397.2 L344.8,398.0 L349.9,398.8 L355.0,399.6 L360.2,400.4 L365.3,401.2 L370.4,402.0 L375.5,402.8 L380.7,403.5 L385.8,404.3 L391.0,405.1 L396.1,405.9 L401.2,406.7 L406.4,407.5 L411.5,408.3 L416.7,409.1 L421.9,410.0 L427.0,410.8 L432.2,411.7 L437.4,412.5 L442.5,413.4 L447.7,414.4 L452.9,415.3 L458.1,416.2 L463.3,417.2 L468.5,418.2 L473.7,419.2 L478.9,420.3 L484.1,421.4 L489.3,422.5 L494.5,423.6 L499.7,424.8 L505.0,426.0 L510.2,427.3 L515.4,428.6 L520.6,429.9 L525.8,431.3 L530.9,432.7 L536.1,434.2 L541.2,435.8 L546.3,437.4 L551.4,439.0 L556.4,440.8 L561.4,442.6 L566.4,444.4 L571.3,446.4 L576.2,448.4 L581.0,450.5 L585.8,452.6 L590.5,454.9 L595.1,457.2 L599.7,459.6 L604.3,462.1 L608.7,464.8 L613.1,467.5 L617.4,470.3 L621.6,473.2 L625.8,476.2 L629.8,479.3 L633.8,482.5 L637.7,485.9 L641.5,489.3 L645.2,492.9 L648.8,496.6 L652.2,500.4 L655.6,504.3 L658.7,508.4 L661.7,512.5 L664.6,516.8 L667.2,521.2 L669.7,525.8 L671.9,530.4 L673.9,535.2 L675.6,540.1 L677.1,545.1 L678.2,550.3 L679.1,555.6 L679.7,561.0 L680.0,566.5 L679.9,572.1 L677.8,577.0 L673.2,601.0 L674.9,596.4 L675.6,590.7 L676.0,585.1 L676.1,579.5 L675.8,574.1 L675.3,568.7 L674.4,563.4 L673.3,558.2 L671.9,553.2 L670.2,548.2 L668.3,543.3 L666.2,538.6 L663.9,534.0 L661.3,529.4 L658.6,525.1 L655.7,520.8 L652.6,516.7 L649.4,512.6 L646.0,508.8 L642.5,505.0 L638.8,501.3 L635.0,497.8 L631.1,494.4 L627.0,491.0 L622.9,487.8 L618.6,484.7 L614.2,481.7 L609.8,478.8 L605.3,476.0 L600.6,473.2 L596.0,470.6 L591.2,468.1 L586.4,465.6 L581.6,463.2 L576.7,460.9 L571.8,458.7 L566.9,456.6 L561.9,454.5 L556.9,452.5 L551.9,450.6 L546.9,448.7 L541.9,446.9 L536.9,445.1 L531.8,443.5 L526.7,441.8 L521.7,440.3 L516.6,438.8 L511.5,437.3 L506.3,435.9 L501.2,434.5 L496.1,433.2 L490.9,432.0 L485.8,430.8 L480.6,429.6 L475.4,428.4 L470.2,427.3 L465.0,426.3 L459.8,425.3 L454.6,424.3 L449.4,423.3 L444.2,422.3 L439.0,421.4 L433.7,420.5 L428.5,419.7 L423.2,418.8 L418.0,418.0 L412.7,417.2 L407.5,416.4 L402.2,415.6 L397.0,414.9 L391.7,414.1 L386.4,413.4 L381.2,412.6 L375.9,411.9 L370.6,411.1 L365.4,410.4 L360.1,409.7 L354.8,408.9 L349.6,408.2 L344.3,407.4 L339.1,406.6 L333.8,405.9 L328.6,405.1 L323.3,404.3 L318.1,403.4 L312.8,402.6 L307.6,401.7 L302.4,400.9 L297.2,399.9 L291.9,399.0 L286.7,398.0 L281.5,397.0 L276.3,396.0 L271.2,395.0 L266.0,393.9 L260.8,392.7 L255.7,391.5 L250.5,390.3 L245.4,389.1 L240.3,387.8 L235.2,386.4 L230.1,385.0 L225.0,383.6 L219.9,382.0 L214.9,380.5 L209.8,378.9 L204.8,377.2 L199.8,375.5 L194.8,373.7 L189.8,371.8 L184.8,369.9 L179.9,367.9 L174.9,365.8 L170.0,363.6 L165.1,361.4 L160.2,359.1 L155.4,356.8 L150.5,354.3 L146.4,351.5 Z" fill="url(#gCut)"/>
<path d="M158.3,348.3 L162.9,350.7 L167.5,353.1 L172.2,355.3 L177.0,357.5 L181.8,359.5 L186.6,361.5 L191.6,363.3 L196.5,365.1 L201.5,366.9 L206.5,368.5 L211.6,370.1 L216.7,371.6 L221.8,373.1 L226.9,374.5 L232.0,375.8 L237.2,377.1 L242.3,378.4 L247.4,379.6 L252.6,380.8 L257.7,382.0 L262.8,383.1 L267.9,384.2 L273.1,385.3 L278.2,386.4 L283.3,387.4 L288.4,388.4 L293.6,389.3 L298.7,390.3 L303.8,391.2 L308.9,392.1 L314.0,393.0 L319.2,393.9 L324.3,394.7 L329.4,395.6 L334.5,396.4 L339.6,397.2 L344.8,398.0 L349.9,398.8 L355.0,399.6 L360.2,400.4 L365.3,401.2 L370.4,402.0 L375.5,402.8 L380.7,403.5 L385.8,404.3 L391.0,405.1 L396.1,405.9 L401.2,406.7 L406.4,407.5 L411.5,408.3 L416.7,409.1 L421.9,410.0 L427.0,410.8 L432.2,411.7 L437.4,412.5 L442.5,413.4 L447.7,414.4 L452.9,415.3 L458.1,416.2 L463.3,417.2 L468.5,418.2 L473.7,419.2 L478.9,420.3 L484.1,421.4 L489.3,422.5 L494.5,423.6 L499.7,424.8 L505.0,426.0 L510.2,427.3 L515.4,428.6 L520.6,429.9 L525.8,431.3 L530.9,432.7 L536.1,434.2 L541.2,435.8 L546.3,437.4 L551.4,439.0 L556.4,440.8 L561.4,442.6 L566.4,444.4 L571.3,446.4 L576.2,448.4 L581.0,450.5 L585.8,452.6 L590.5,454.9 L595.1,457.2 L599.7,459.6 L604.3,462.1 L608.7,464.8 L613.1,467.5 L617.4,470.3 L621.6,473.2 L625.8,476.2 L629.8,479.3 L633.8,482.5 L637.7,485.9 L641.5,489.3 L645.2,492.9 L648.8,496.6 L652.2,500.4 L655.6,504.3 L658.7,508.4 L661.7,512.5 L664.6,516.8 L667.2,521.2 L669.7,525.8 L671.9,530.4 L673.9,535.2 L675.6,540.1 L677.1,545.1 L678.2,550.3 L679.1,555.6 L679.7,561.0 L680.0,566.5 L679.9,572.1 L677.8,577.0" fill="none" stroke="#eeeeee" stroke-width="1.3"/>
<path d="M333.8,405.9 L339.1,406.6 L344.3,407.4 L349.6,408.2 L354.8,408.9 L360.1,409.7 L365.4,410.4 L370.6,411.1 L375.9,411.9 L381.2,412.6 L386.4,413.4 L391.7,414.1 L397.0,414.9 L402.2,415.6 L407.5,416.4 L412.7,417.2 L418.0,418.0 L423.2,418.8 L428.5,419.7 L433.7,420.5 L439.0,421.4 L444.2,422.3 L449.4,423.3 L454.6,424.3 L459.8,425.3 L465.0,426.3 L470.2,427.3 L475.4,428.4 L480.6,429.6 L485.8,430.8 L490.9,432.0 L496.1,433.2 L501.2,434.5 L506.3,435.9 L511.5,437.3 L516.6,438.8 L521.7,440.3 L526.7,441.8 L531.8,443.5 L536.9,445.1 L541.9,446.9 L546.9,448.7 L551.9,450.6 L556.9,452.5 L561.9,454.5 L566.9,456.6 L571.8,458.7 L576.7,460.9 L581.6,463.2 L586.4,465.6 L591.2,468.1 L596.0,470.6 L600.6,473.2 L605.3,476.0 L609.8,478.8 L614.2,481.7 L618.6,484.7 L622.9,487.8 L627.0,491.0 L631.1,494.4 L635.0,497.8 L638.8,501.3 L642.5,505.0 L646.0,508.8 L649.4,512.6 L652.6,516.7 L655.7,520.8 L658.6,525.1 L661.3,529.4 L663.9,534.0 L666.2,538.6 L668.3,543.3 L670.2,548.2 L671.9,553.2 L673.3,558.2 L674.4,563.4 L675.3,568.7 L675.8,574.1 L676.1,579.5 L676.0,585.1 L675.6,590.7 L674.9,596.4 L673.2,601.0" fill="none" stroke="rgb(62,64,72)" stroke-width="1.2" opacity="0.8"/>
<path d="M211.5,316.5 L216.0,320.8 L221.1,323.8 L226.3,326.7 L231.6,329.4 L237.0,332.0 L242.5,334.5 L248.0,336.8 L253.6,339.0 L259.3,341.0 L265.1,343.0 L270.9,344.9 L276.8,346.6 L282.7,348.3 L288.6,349.9 L294.6,351.4 L300.6,352.8 L306.6,354.1 L312.6,355.4 L318.7,356.7 L324.7,357.9 L330.7,359.0 L336.7,360.2 L342.7,361.3 L348.7,362.3 L354.7,363.4 L360.7,364.4 L366.6,365.4 L372.6,366.4 L378.5,367.3 L384.4,368.3 L390.3,369.2 L396.2,370.2 L402.1,371.1 L408.0,372.0 L413.9,372.9 L419.8,373.8 L425.7,374.7 L431.6,375.6 L437.5,376.5 L443.4,377.4 L449.3,378.3 L455.2,379.2 L461.1,380.2 L467.0,381.1 L472.9,382.1 L478.9,383.1 L484.8,384.1 L490.7,385.1 L496.7,386.1 L502.7,387.2 L508.6,388.3 L514.6,389.4 L520.7,390.6 L526.7,391.8 L532.7,393.0 L538.8,394.2 L544.8,395.5 L550.9,396.9 L557.0,398.3 L563.1,399.7 L569.1,401.2 L575.2,402.8 L581.2,404.5 L587.2,406.2 L593.1,408.0 L599.0,409.8 L604.9,411.8 L610.7,413.9 L616.5,416.0 L622.2,418.3 L627.8,420.6 L633.3,423.1 L638.8,425.7 L644.2,428.4 L649.4,431.2 L654.6,434.1 L659.7,437.2 L664.7,440.4 L669.5,443.8 L674.3,447.3 L678.9,451.0 L683.3,454.8 L687.7,458.7 L691.9,462.9 L695.9,467.2 L699.8,471.7 L703.5,476.3 L707.0,481.1 L710.3,486.1 L713.4,491.3 L716.2,496.6 L718.7,502.1 L720.9,507.8 L722.7,513.6 L724.2,519.6 L725.3,525.7 L726.0,532.0 L726.3,538.5 L725.8,544.4 L726.0,545.6 L732.0,542.2 L737.9,538.8 L743.8,535.4 L749.8,531.9 L755.7,528.5 L761.6,525.0 L767.6,521.6 L773.5,518.2 L779.5,514.8 L785.5,511.5 L787.5,500.9 L795.3,497.7 L802.8,494.0 L809.9,489.8 L816.8,485.2 L823.5,480.3 L830.1,475.3 L836.6,470.2 L843.2,465.1 L849.8,460.1 L856.6,455.4 L863.7,451.0 L871.0,447.0 L872.0,436.0 L876.1,433.4 L879.6,430.8 L883.2,428.1 L886.9,425.5 L890.5,422.8 L894.2,420.1 L897.9,417.4 L901.6,414.6 L905.3,411.9 L909.0,409.0 L912.8,406.2 L916.5,403.3 L920.2,400.4 L923.8,397.5 L927.5,394.5 L931.1,391.5 L934.7,388.5 L938.3,385.4 L941.8,382.3 L945.3,379.2 L948.8,376.0 L952.2,372.7 L955.5,369.4 L958.8,366.1 L962.1,362.7 L965.2,359.3 L968.3,355.9 L971.3,352.3 L974.2,348.8 L977.1,345.1 L979.8,341.5 L982.5,337.7 L985.1,334.0 L987.5,330.1 L989.9,326.2 L992.1,322.3 L994.2,318.2 L996.2,314.1 L998.1,310.0 L999.9,305.8 L1001.5,301.5 L1003.0,297.2 L1004.3,292.8 L1005.5,288.3 L1006.5,283.7 L1007.4,279.1 L1008.1,274.4 L1008.7,269.7 L1008.7,265.0 L1008.7,265.0 L1002.1,262.9 L995.4,260.9 L988.7,259.0 L982.0,257.0 L975.4,255.0 L968.7,253.0 L962.0,251.0 L955.4,249.0 L948.7,246.9 L942.1,244.9 L935.4,242.8 L928.8,240.8 L922.2,238.7 L915.5,236.6 L908.9,234.5 L902.2,232.4 L895.6,230.3 L889.0,228.2 L882.4,226.1 L875.7,224.0 L869.1,221.8 L862.5,219.7 L855.9,217.6 L849.3,215.4 L842.6,213.2 L836.0,211.1 L829.4,208.9 L822.8,206.8 L816.2,204.6 L809.6,202.4 L803.0,200.2 L796.4,198.0 L789.8,195.9 L783.2,193.7 L776.6,191.5 L770.0,189.3 L763.4,187.1 L756.8,184.9 L750.2,182.7 L743.5,180.5 L736.9,178.4 L730.3,176.2 L723.7,174.0 L717.1,171.8 L710.5,169.6 L703.9,167.4 L697.3,165.2 L690.7,163.1 L684.1,160.9 L677.5,158.7 L670.9,156.6 L664.3,154.4 L657.6,152.2 L651.0,150.1 L644.4,147.9 L637.8,145.8 L631.2,143.7 L624.6,141.5 L617.9,139.5 L617.9,139.5 C617.5,139.9 616.5,139.5 615.6,142.0 C614.7,144.5 614.3,150.1 612.2,154.4 C610.1,158.7 607.4,163.6 603.0,168.0 C598.6,172.4 592.5,176.9 585.8,180.7 C579.1,184.5 570.5,188.1 562.9,191.0 C555.3,193.9 543.8,196.8 540.0,197.9 L540.0,197.9 L346.6,266.7 L268.7,295.3 L211.5,316.5 Z" fill="url(#gWood)"/>
<defs><filter id="blurM1" x="-50%" y="-50%" width="200%" height="200%"><feGaussianBlur stdDeviation="14"/></filter><filter id="blurM2" x="-50%" y="-50%" width="200%" height="200%"><feGaussianBlur stdDeviation="22"/></filter><mask id="mTop" maskUnits="userSpaceOnUse" x="0" y="0" width="1080" height="699"><path d="M631.8,106.8 L638.6,108.9 L645.4,110.9 L652.2,113.0 L659.0,115.1 L665.8,117.1 L672.6,119.2 L679.3,121.4 L686.1,123.5 L692.9,125.6 L699.7,127.7 L706.4,129.9 L713.2,132.0 L719.9,134.2 L726.7,136.4 L733.5,138.5 L740.2,140.7 L747.0,142.9 L753.7,145.1 L760.5,147.3 L767.2,149.5 L774.0,151.7 L780.7,153.9 L787.4,156.2 L794.2,158.4 L800.9,160.6 L807.7,162.8 L814.4,165.1 L821.1,167.3 L827.9,169.6 L834.6,171.8 L841.4,174.1 L848.1,176.3 L854.8,178.6 L861.6,180.8 L868.3,183.1 L875.0,185.3 L881.8,187.6 L888.5,189.8 L895.2,192.0 L902.0,194.3 L908.7,196.5 L915.4,198.8 L922.2,201.0 L928.9,203.3 L935.6,205.5 L942.4,207.7 L949.1,210.0 L955.9,212.2 L962.6,214.4 L969.4,216.6 L976.1,218.8 L982.9,221.0 L989.6,223.2 L996.4,225.4 L1003.1,227.6 L1009.9,229.8 L1016.6,232.0 L1023.3,234.4 L1002.2,299.0 L995.5,296.6 L988.8,294.4 L982.0,292.2 L975.3,290.0 L968.5,287.8 L961.8,285.6 L955.0,283.4 L948.3,281.2 L941.5,279.0 L934.8,276.8 L928.1,274.6 L921.3,272.3 L914.6,270.1 L907.8,267.9 L901.1,265.6 L894.4,263.4 L887.6,261.1 L880.9,258.9 L874.1,256.6 L867.4,254.4 L860.7,252.2 L853.9,249.9 L847.2,247.7 L840.5,245.4 L833.7,243.2 L827.0,240.9 L820.3,238.7 L813.5,236.4 L806.8,234.2 L800.1,231.9 L793.3,229.7 L786.6,227.4 L779.8,225.2 L773.1,223.0 L766.4,220.8 L759.6,218.5 L752.9,216.3 L746.1,214.1 L739.4,211.9 L732.6,209.7 L725.9,207.5 L719.1,205.3 L712.4,203.1 L705.6,201.0 L698.9,198.8 L692.1,196.6 L685.3,194.5 L678.6,192.3 L671.8,190.2 L665.0,188.1 L658.3,186.0 L651.5,183.8 L644.7,181.7 L637.9,179.7 L631.1,177.6 L624.3,175.5 L617.5,173.5 L610.8,171.4 Z" fill="#fff" filter="url(#blurM1)"/></mask><mask id="mMid" maskUnits="userSpaceOnUse" x="0" y="0" width="1080" height="699"><path d="M631.8,106.8 L638.6,108.9 L645.4,110.9 L652.2,113.0 L659.0,115.1 L665.8,117.1 L672.6,119.2 L679.3,121.4 L686.1,123.5 L692.9,125.6 L699.7,127.7 L706.4,129.9 L713.2,132.0 L719.9,134.2 L726.7,136.4 L733.5,138.5 L740.2,140.7 L747.0,142.9 L753.7,145.1 L760.5,147.3 L767.2,149.5 L774.0,151.7 L780.7,153.9 L787.4,156.2 L794.2,158.4 L800.9,160.6 L807.7,162.8 L814.4,165.1 L821.1,167.3 L827.9,169.6 L834.6,171.8 L841.4,174.1 L848.1,176.3 L854.8,178.6 L861.6,180.8 L868.3,183.1 L875.0,185.3 L881.8,187.6 L888.5,189.8 L895.2,192.0 L902.0,194.3 L908.7,196.5 L915.4,198.8 L922.2,201.0 L928.9,203.3 L935.6,205.5 L942.4,207.7 L949.1,210.0 L955.9,212.2 L962.6,214.4 L969.4,216.6 L976.1,218.8 L982.9,221.0 L989.6,223.2 L996.4,225.4 L1003.1,227.6 L1009.9,229.8 L1016.6,232.0 L1023.3,234.4 L984.5,353.1 L977.9,350.7 L971.1,348.6 L964.4,346.4 L957.6,344.2 L950.9,342.0 L944.1,339.8 L937.4,337.6 L930.6,335.4 L923.9,333.2 L917.1,330.9 L910.4,328.7 L903.6,326.5 L896.9,324.3 L890.2,322.0 L883.4,319.8 L876.7,317.5 L869.9,315.3 L863.2,313.0 L856.5,310.8 L849.7,308.6 L843.0,306.3 L836.3,304.1 L829.5,301.8 L822.8,299.6 L816.1,297.3 L809.3,295.1 L802.6,292.8 L795.9,290.6 L789.1,288.3 L782.4,286.1 L775.7,283.8 L768.9,281.6 L762.2,279.4 L755.4,277.1 L748.7,274.9 L742.0,272.7 L735.2,270.5 L728.5,268.3 L721.7,266.1 L715.0,263.8 L708.2,261.7 L701.5,259.5 L694.7,257.3 L688.0,255.1 L681.2,252.9 L674.4,250.8 L667.7,248.6 L660.9,246.5 L654.1,244.3 L647.4,242.2 L640.6,240.1 L633.8,238.0 L627.0,235.9 L620.2,233.8 L613.5,231.7 L606.7,229.7 L599.9,227.6 L593.1,225.6 Z" fill="#fff" filter="url(#blurM2)"/><path d="M631.8,106.8 L638.6,108.9 L645.4,110.9 L652.2,113.0 L659.0,115.1 L665.8,117.1 L672.6,119.2 L679.3,121.4 L686.1,123.5 L692.9,125.6 L699.7,127.7 L706.4,129.9 L713.2,132.0 L719.9,134.2 L726.7,136.4 L733.5,138.5 L740.2,140.7 L747.0,142.9 L753.7,145.1 L760.5,147.3 L767.2,149.5 L774.0,151.7 L780.7,153.9 L787.4,156.2 L794.2,158.4 L800.9,160.6 L807.7,162.8 L814.4,165.1 L821.1,167.3 L827.9,169.6 L834.6,171.8 L841.4,174.1 L848.1,176.3 L854.8,178.6 L861.6,180.8 L868.3,183.1 L875.0,185.3 L881.8,187.6 L888.5,189.8 L895.2,192.0 L902.0,194.3 L908.7,196.5 L915.4,198.8 L922.2,201.0 L928.9,203.3 L935.6,205.5 L942.4,207.7 L949.1,210.0 L955.9,212.2 L962.6,214.4 L969.4,216.6 L976.1,218.8 L982.9,221.0 L989.6,223.2 L996.4,225.4 L1003.1,227.6 L1009.9,229.8 L1016.6,232.0 L1023.3,234.4 L1002.2,299.0 L995.5,296.6 L988.8,294.4 L982.0,292.2 L975.3,290.0 L968.5,287.8 L961.8,285.6 L955.0,283.4 L948.3,281.2 L941.5,279.0 L934.8,276.8 L928.1,274.6 L921.3,272.3 L914.6,270.1 L907.8,267.9 L901.1,265.6 L894.4,263.4 L887.6,261.1 L880.9,258.9 L874.1,256.6 L867.4,254.4 L860.7,252.2 L853.9,249.9 L847.2,247.7 L840.5,245.4 L833.7,243.2 L827.0,240.9 L820.3,238.7 L813.5,236.4 L806.8,234.2 L800.1,231.9 L793.3,229.7 L786.6,227.4 L779.8,225.2 L773.1,223.0 L766.4,220.8 L759.6,218.5 L752.9,216.3 L746.1,214.1 L739.4,211.9 L732.6,209.7 L725.9,207.5 L719.1,205.3 L712.4,203.1 L705.6,201.0 L698.9,198.8 L692.1,196.6 L685.3,194.5 L678.6,192.3 L671.8,190.2 L665.0,188.1 L658.3,186.0 L651.5,183.8 L644.7,181.7 L637.9,179.7 L631.1,177.6 L624.3,175.5 L617.5,173.5 L610.8,171.4 Z" fill="#000" filter="url(#blurM1)"/></mask><mask id="mBase" maskUnits="userSpaceOnUse" x="0" y="0" width="1080" height="699"><rect width="1080" height="699" fill="#fff"/><path d="M631.8,106.8 L638.6,108.9 L645.4,110.9 L652.2,113.0 L659.0,115.1 L665.8,117.1 L672.6,119.2 L679.3,121.4 L686.1,123.5 L692.9,125.6 L699.7,127.7 L706.4,129.9 L713.2,132.0 L719.9,134.2 L726.7,136.4 L733.5,138.5 L740.2,140.7 L747.0,142.9 L753.7,145.1 L760.5,147.3 L767.2,149.5 L774.0,151.7 L780.7,153.9 L787.4,156.2 L794.2,158.4 L800.9,160.6 L807.7,162.8 L814.4,165.1 L821.1,167.3 L827.9,169.6 L834.6,171.8 L841.4,174.1 L848.1,176.3 L854.8,178.6 L861.6,180.8 L868.3,183.1 L875.0,185.3 L881.8,187.6 L888.5,189.8 L895.2,192.0 L902.0,194.3 L908.7,196.5 L915.4,198.8 L922.2,201.0 L928.9,203.3 L935.6,205.5 L942.4,207.7 L949.1,210.0 L955.9,212.2 L962.6,214.4 L969.4,216.6 L976.1,218.8 L982.9,221.0 L989.6,223.2 L996.4,225.4 L1003.1,227.6 L1009.9,229.8 L1016.6,232.0 L1023.3,234.4 L984.5,353.1 L977.9,350.7 L971.1,348.6 L964.4,346.4 L957.6,344.2 L950.9,342.0 L944.1,339.8 L937.4,337.6 L930.6,335.4 L923.9,333.2 L917.1,330.9 L910.4,328.7 L903.6,326.5 L896.9,324.3 L890.2,322.0 L883.4,319.8 L876.7,317.5 L869.9,315.3 L863.2,313.0 L856.5,310.8 L849.7,308.6 L843.0,306.3 L836.3,304.1 L829.5,301.8 L822.8,299.6 L816.1,297.3 L809.3,295.1 L802.6,292.8 L795.9,290.6 L789.1,288.3 L782.4,286.1 L775.7,283.8 L768.9,281.6 L762.2,279.4 L755.4,277.1 L748.7,274.9 L742.0,272.7 L735.2,270.5 L728.5,268.3 L721.7,266.1 L715.0,263.8 L708.2,261.7 L701.5,259.5 L694.7,257.3 L688.0,255.1 L681.2,252.9 L674.4,250.8 L667.7,248.6 L660.9,246.5 L654.1,244.3 L647.4,242.2 L640.6,240.1 L633.8,238.0 L627.0,235.9 L620.2,233.8 L613.5,231.7 L606.7,229.7 L599.9,227.6 L593.1,225.6 Z" fill="#000" filter="url(#blurM2)"/></mask></defs>
<g clip-path="url(#cWood)"><g mask="url(#mBase)"><g mask="url(#mxL)"><g transform="rotate(-19 720 300)"><rect x="60" y="-300" width="1320" height="1200" filter="url(#grain)" opacity="0.8"/><rect x="60" y="-300" width="1320" height="1200" filter="url(#grainL)" opacity="0.7"/></g></g><g mask="url(#mxR)"><g transform="rotate(-32 720 300)"><rect x="60" y="-300" width="1320" height="1200" filter="url(#grain)" opacity="0.8"/><rect x="60" y="-300" width="1320" height="1200" filter="url(#grainL)" opacity="0.7"/></g></g></g><g mask="url(#mMid)"><g transform="rotate(-42 720 300)"><rect x="60" y="-300" width="1320" height="1200" filter="url(#grain)" opacity="0.8"/><rect x="60" y="-300" width="1320" height="1200" filter="url(#grainL)" opacity="0.7"/></g></g><g mask="url(#mTop)"><g transform="rotate(-58 720 300)"><rect x="60" y="-300" width="1320" height="1200" filter="url(#grain)" opacity="0.8"/><rect x="60" y="-300" width="1320" height="1200" filter="url(#grainL)" opacity="0.7"/></g></g></g>
<path d="M211.5,316.5 L216.0,320.8 L221.1,323.8 L226.3,326.7 L231.6,329.4 L237.0,332.0 L242.5,334.5 L248.0,336.8 L253.6,339.0 L259.3,341.0 L265.1,343.0 L270.9,344.9 L276.8,346.6 L282.7,348.3 L288.6,349.9 L294.6,351.4 L300.6,352.8 L306.6,354.1 L312.6,355.4 L318.7,356.7 L324.7,357.9 L330.7,359.0 L336.7,360.2 L342.7,361.3 L348.7,362.3 L354.7,363.4 L360.7,364.4 L366.6,365.4 L372.6,366.4 L378.5,367.3 L384.4,368.3 L390.3,369.2 L396.2,370.2 L402.1,371.1 L408.0,372.0 L413.9,372.9 L419.8,373.8 L425.7,374.7 L431.6,375.6 L437.5,376.5 L443.4,377.4 L449.3,378.3 L455.2,379.2 L461.1,380.2 L467.0,381.1 L472.9,382.1 L478.9,383.1 L484.8,384.1 L490.7,385.1 L496.7,386.1 L502.7,387.2 L508.6,388.3 L514.6,389.4 L520.7,390.6 L526.7,391.8 L532.7,393.0 L538.8,394.2 L544.8,395.5 L550.9,396.9 L557.0,398.3 L563.1,399.7 L569.1,401.2 L575.2,402.8 L581.2,404.5 L587.2,406.2 L593.1,408.0 L599.0,409.8 L604.9,411.8 L610.7,413.9 L616.5,416.0 L622.2,418.3 L627.8,420.6 L633.3,423.1 L638.8,425.7 L644.2,428.4 L649.4,431.2 L654.6,434.1 L659.7,437.2 L664.7,440.4 L669.5,443.8 L674.3,447.3 L678.9,451.0 L683.3,454.8 L687.7,458.7 L691.9,462.9 L695.9,467.2 L699.8,471.7 L703.5,476.3 L707.0,481.1 L710.3,486.1 L713.4,491.3 L716.2,496.6 L718.7,502.1 L720.9,507.8 L722.7,513.6 L724.2,519.6 L725.3,525.7 L726.0,532.0 L726.3,538.5 L725.8,544.4" fill="none" stroke="#8f93a3" stroke-width="1.5"/>
<path d="M923.8,397.5 L927.5,394.5 L931.1,391.5 L934.7,388.5 L938.3,385.4 L941.8,382.3 L945.3,379.2 L948.8,376.0 L952.2,372.7 L955.5,369.4 L958.8,366.1 L962.1,362.7 L965.2,359.3 L968.3,355.9 L971.3,352.3 L974.2,348.8 L977.1,345.1 L979.8,341.5 L982.5,337.7 L985.1,334.0 L987.5,330.1 L989.9,326.2 L992.1,322.3 L994.2,318.2 L996.2,314.1 L998.1,310.0 L999.9,305.8 L1001.5,301.5 L1003.0,297.2 L1004.3,292.8 L1005.5,288.3 L1006.5,283.7 L1007.4,279.1 L1008.1,274.4 L1008.7,269.7 L1008.7,265.0" fill="none" stroke="#8fb2de" stroke-width="2.2"/>
<path d="M269.1,296.4 L273.0,298.9 L277.4,300.5 L281.5,302.0 L285.7,303.4 L289.8,304.8 L294.0,306.1 L298.2,307.4 L302.3,308.7 L306.5,309.9 L310.7,311.1 L314.9,312.2 L319.1,313.4 L323.3,314.5 L327.5,315.5 L331.7,316.5 L336.0,317.5 L340.2,318.5 L344.4,319.4 L348.7,320.3 L352.9,321.2 L357.1,322.1 L361.4,322.9 L365.6,323.7 L369.9,324.5 L374.1,325.2 L378.4,326.0 L382.7,326.7 L386.9,327.4 L391.2,328.0 L395.5,328.7 L399.8,329.3 L404.0,330.0 L408.3,330.6 L412.6,331.1 L416.9,331.7 L421.2,332.3 L425.5,332.8 L429.8,333.4 L434.1,333.9 L438.4,334.4 L442.7,334.9 L447.0,335.4 L451.3,335.9 L455.6,336.4 L459.9,336.9 L464.2,337.4 L468.5,337.8 L472.8,338.3 L477.1,338.8 L481.4,339.2 L485.7,339.7 L490.0,340.2 L494.3,340.6 L498.6,341.1 L502.9,341.6 L507.2,342.1 L511.5,342.5 L515.8,343.0 L520.1,343.5 L524.4,344.0 L528.7,344.5 L533.0,345.1 L537.3,345.6 L541.6,346.1 L545.9,346.7 L550.2,347.3 L554.5,347.8 L558.8,348.4 L563.1,349.0 L567.4,349.7 L571.7,350.3 L575.9,351.0 L580.2,351.7 L584.5,352.4 L588.8,353.1 L593.0,353.8 L597.3,354.6 L601.6,355.3 L605.8,356.1 L610.1,357.0 L614.4,357.8 L618.6,358.7 L622.8,359.6 L627.1,360.5 L631.3,361.5 L635.6,362.4 L639.8,363.5 L644.0,364.5 L648.2,365.6 L652.4,366.7 L656.6,367.9 L660.8,369.1 L665.0,370.3 L669.1,371.6 L673.3,372.9 L677.4,374.3 L681.5,375.7 L685.6,377.2 L689.6,378.7 L693.6,380.3 L697.6,381.9 L701.6,383.6 L705.6,385.4 L709.5,387.2 L713.4,389.0 L717.2,390.9 L721.1,392.9 L724.9,394.9 L728.6,397.0 L732.4,399.2 L736.0,401.5 L739.7,403.8 L743.2,406.2 L746.7,408.7 L750.1,411.3 L753.4,413.9 L756.5,416.7 L759.5,419.6 L762.4,422.6 L765.0,425.8 L767.6,429.0 L769.9,432.4 L772.0,436.0 L774.0,439.6 L775.8,443.4 L777.5,447.2 L778.9,451.2 L780.2,455.2 L781.4,459.3 L782.4,463.5 L783.2,467.8 L783.9,472.1 L784.4,476.5 L784.8,480.9 L785.0,485.3 L785.1,489.8 L785.1,494.3 L784.9,498.9 L785.3,503.1 L786.7,502.9 L786.3,498.8 L786.6,494.3 L786.7,489.8 L786.6,485.3 L786.4,480.8 L786.1,476.3 L785.6,471.9 L785.0,467.5 L784.2,463.1 L783.2,458.9 L782.1,454.7 L780.8,450.5 L779.4,446.5 L777.7,442.5 L775.9,438.7 L773.9,434.9 L771.8,431.2 L769.4,427.7 L766.9,424.3 L764.2,421.0 L761.3,417.9 L758.2,414.9 L755.1,412.0 L751.8,409.2 L748.4,406.5 L744.9,403.9 L741.3,401.4 L737.6,399.0 L733.9,396.6 L730.2,394.4 L726.4,392.2 L722.6,390.1 L718.7,388.0 L714.9,386.0 L710.9,384.1 L707.0,382.2 L703.0,380.4 L699.0,378.7 L695.0,377.0 L690.9,375.4 L686.8,373.8 L682.7,372.3 L678.6,370.8 L674.4,369.4 L670.3,368.0 L666.1,366.7 L661.9,365.4 L657.7,364.2 L653.5,363.0 L649.3,361.8 L645.0,360.7 L640.8,359.6 L636.5,358.5 L632.3,357.5 L628.0,356.5 L623.7,355.5 L619.5,354.6 L615.2,353.7 L610.9,352.8 L606.7,351.9 L602.4,351.1 L598.1,350.3 L593.8,349.5 L589.5,348.7 L585.2,348.0 L580.9,347.3 L576.6,346.6 L572.3,345.9 L568.0,345.3 L563.7,344.6 L559.4,344.0 L555.1,343.4 L550.8,342.8 L546.5,342.3 L542.2,341.7 L537.9,341.2 L533.6,340.6 L529.3,340.1 L525.0,339.6 L520.7,339.1 L516.4,338.6 L512.0,338.1 L507.7,337.6 L503.4,337.1 L499.1,336.6 L494.8,336.1 L490.5,335.7 L486.2,335.2 L481.9,334.7 L477.6,334.2 L473.3,333.8 L469.0,333.3 L464.7,332.8 L460.4,332.3 L456.1,331.9 L451.8,331.4 L447.5,330.9 L443.2,330.4 L438.9,329.9 L434.6,329.3 L430.3,328.8 L426.1,328.3 L421.8,327.7 L417.5,327.1 L413.2,326.6 L409.0,326.0 L404.7,325.4 L400.4,324.7 L396.2,324.1 L391.9,323.4 L387.7,322.8 L383.4,322.1 L379.2,321.4 L375.0,320.6 L370.7,319.9 L366.5,319.1 L362.3,318.3 L358.0,317.5 L353.8,316.6 L349.6,315.7 L345.4,314.8 L341.2,313.9 L337.0,312.9 L332.8,311.9 L328.7,310.9 L324.5,309.9 L320.3,308.8 L316.1,307.7 L312.0,306.5 L307.8,305.3 L303.7,304.1 L299.6,302.9 L295.4,301.6 L291.3,300.2 L287.2,298.9 L283.1,297.4 L279.0,296.0 L275.1,294.6 L271.7,292.4 Z" fill="#f3f3f4"/>
<path d="M351.5,268.4 L355.3,269.0 L359.4,270.1 L363.6,271.1 L367.7,272.2 L371.9,273.2 L376.1,274.1 L380.2,275.1 L384.4,276.0 L388.6,276.9 L392.7,277.8 L396.9,278.6 L401.0,279.5 L405.2,280.3 L409.4,281.0 L413.5,281.8 L417.7,282.6 L421.8,283.3 L425.9,284.0 L430.1,284.7 L434.2,285.3 L438.4,286.0 L442.5,286.6 L446.7,287.2 L450.8,287.9 L454.9,288.4 L459.1,289.0 L463.2,289.6 L467.3,290.1 L471.5,290.6 L475.6,291.2 L479.8,291.7 L483.9,292.2 L488.0,292.7 L492.2,293.1 L496.3,293.6 L500.4,294.1 L504.6,294.5 L508.7,295.0 L512.8,295.4 L517.0,295.8 L521.1,296.2 L525.2,296.7 L529.4,297.1 L533.5,297.5 L537.6,297.9 L541.8,298.3 L545.9,298.7 L550.0,299.1 L554.2,299.5 L558.3,299.9 L562.4,300.3 L566.6,300.7 L570.7,301.0 L574.9,301.4 L579.0,301.8 L583.2,302.2 L587.3,302.7 L591.5,303.1 L595.6,303.5 L599.7,303.9 L603.9,304.3 L608.1,304.7 L612.2,305.2 L616.4,305.6 L620.5,306.1 L624.7,306.5 L628.9,307.0 L633.0,307.5 L637.2,308.0 L641.4,308.5 L645.5,309.0 L649.7,309.5 L653.9,310.0 L658.1,310.6 L662.2,311.1 L666.4,311.7 L670.6,312.3 L674.8,312.9 L679.0,313.5 L683.2,314.1 L687.4,314.8 L691.6,315.5 L695.8,316.2 L700.0,316.9 L704.2,317.6 L708.5,318.3 L712.7,319.0 L716.9,319.8 L721.1,320.6 L725.3,321.4 L729.5,322.3 L733.7,323.2 L737.9,324.1 L742.1,325.1 L746.2,326.1 L750.4,327.1 L754.5,328.2 L758.5,329.3 L762.6,330.5 L766.6,331.8 L770.6,333.0 L774.6,334.4 L778.5,335.8 L782.4,337.2 L786.2,338.8 L790.0,340.3 L793.7,342.0 L797.4,343.7 L801.1,345.5 L804.7,347.4 L808.2,349.3 L811.7,351.3 L815.1,353.4 L818.5,355.6 L821.8,357.8 L825.0,360.2 L828.2,362.6 L831.3,365.1 L834.3,367.7 L837.3,370.5 L840.1,373.3 L842.9,376.2 L845.6,379.2 L848.2,382.3 L850.7,385.6 L853.2,388.9 L855.5,392.3 L857.7,395.9 L859.7,399.5 L861.7,403.2 L863.5,407.0 L865.2,410.9 L866.7,415.0 L868.1,419.1 L869.3,423.3 L870.4,427.5 L871.3,431.9 L872.0,436.3 L871.4,439.9 L872.6,440.1 L873.4,436.3 L872.7,431.7 L871.8,427.2 L870.8,422.9 L869.6,418.6 L868.2,414.4 L866.7,410.3 L865.0,406.4 L863.2,402.5 L861.3,398.6 L859.2,394.9 L857.0,391.3 L854.7,387.8 L852.3,384.4 L849.8,381.1 L847.2,377.8 L844.5,374.7 L841.7,371.7 L838.8,368.8 L835.9,366.0 L832.9,363.3 L829.7,360.7 L826.6,358.2 L823.3,355.7 L820.0,353.4 L816.6,351.1 L813.1,349.0 L809.6,346.9 L806.0,344.9 L802.4,342.9 L798.7,341.1 L795.0,339.3 L791.2,337.6 L787.3,336.0 L783.5,334.4 L779.6,332.9 L775.6,331.4 L771.6,330.0 L767.6,328.7 L763.5,327.4 L759.4,326.2 L755.3,325.0 L751.2,323.9 L747.0,322.8 L742.9,321.8 L738.7,320.8 L734.5,319.8 L730.3,318.9 L726.0,318.0 L721.8,317.1 L717.6,316.3 L713.4,315.4 L709.1,314.6 L704.9,313.9 L700.7,313.1 L696.4,312.4 L692.2,311.7 L688.0,311.0 L683.8,310.4 L679.6,309.7 L675.4,309.1 L671.2,308.5 L667.0,307.9 L662.8,307.3 L658.6,306.8 L654.4,306.2 L650.2,305.7 L646.0,305.1 L641.8,304.6 L637.6,304.1 L633.5,303.6 L629.3,303.1 L625.1,302.7 L621.0,302.2 L616.8,301.7 L612.6,301.3 L608.5,300.9 L604.3,300.4 L600.1,300.0 L596.0,299.6 L591.8,299.2 L587.7,298.7 L583.5,298.3 L579.4,297.9 L575.2,297.5 L571.1,297.1 L567.0,296.7 L562.8,296.3 L558.7,295.9 L554.5,295.5 L550.4,295.1 L546.3,294.7 L542.1,294.3 L538.0,293.9 L533.9,293.5 L529.7,293.1 L525.6,292.7 L521.5,292.3 L517.4,291.8 L513.2,291.4 L509.1,291.0 L505.0,290.5 L500.9,290.1 L496.7,289.6 L492.6,289.1 L488.5,288.6 L484.4,288.2 L480.2,287.7 L476.1,287.1 L472.0,286.6 L467.9,286.1 L463.8,285.5 L459.6,285.0 L455.5,284.4 L451.4,283.8 L447.3,283.2 L443.1,282.6 L439.0,281.9 L434.9,281.3 L430.8,280.6 L426.6,279.9 L422.5,279.2 L418.4,278.5 L414.2,277.8 L410.1,277.0 L406.0,276.2 L401.8,275.4 L397.7,274.6 L393.6,273.7 L389.4,272.8 L385.3,271.9 L381.2,271.0 L377.0,270.1 L372.9,269.1 L368.7,268.1 L364.6,267.1 L360.4,266.0 L356.2,264.9 L352.3,264.2 Z" fill="#f3f3f4"/>
<path d="M268.7,288.4 L346.6,260.9 L346.6,266.7 L268.7,294.6 Z" fill="#7fb2e4"/>
<path d="M346.6,257.5 L540,187.6 L540,197.9 L346.6,266.7 Z" fill="url(#gBackLo)"/>
<path d="M346.6,257.5 L540,187.6 L540,193 L346.6,262.8 Z" fill="url(#gBackHi)"/>
<path d="M346.6,257.5 L349.5,256.5 L349.5,266 L346.6,266.7 Z" fill="#6fa6de"/>
<path d="M540.0,187.6 C543.8,186.3 555.3,182.6 562.9,179.6 C570.5,176.6 579.5,172.9 585.8,169.3 C592.1,165.7 596.9,161.8 600.7,157.8 C604.5,153.8 606.8,148.8 608.7,145.2 C610.6,141.6 611.1,138.4 612.2,136.5 C613.4,134.6 615.0,134.2 615.6,133.7 L617.9,139.5 C617.5,139.9 616.5,139.5 615.6,142.0 C614.7,144.5 614.3,150.1 612.2,154.4 C610.1,158.7 607.4,163.6 603.0,168.0 C598.6,172.4 592.5,176.9 585.8,180.7 C579.1,184.5 570.5,188.1 562.9,191.0 C555.3,193.9 543.8,196.8 540.0,197.9 Z" fill="#86b6e6"/>
<path d="M540.0,187.6 C543.8,186.3 555.3,182.6 562.9,179.6 C570.5,176.6 579.5,172.9 585.8,169.3 C592.1,165.7 596.9,161.8 600.7,157.8 C604.5,153.8 606.8,148.8 608.7,145.2 C610.6,141.6 611.1,138.4 612.2,136.5 C613.4,134.6 615.0,134.2 615.6,133.7 L616.5,136.0 C616.0,136.5 614.6,136.6 613.6,138.7 C612.5,140.8 612.1,145.0 610.1,148.9 C608.1,152.7 605.7,157.7 601.6,161.9 C597.6,166.0 592.3,170.1 585.8,173.9 C579.3,177.6 570.5,181.2 562.9,184.2 C555.3,187.1 543.8,190.5 540.0,191.7 Z" fill="#b4cff0"/>
<path d="M540.0,187.6 C543.8,186.3 555.3,182.6 562.9,179.6 C570.5,176.6 579.5,172.9 585.8,169.3 C592.1,165.7 596.9,161.8 600.7,157.8 C604.5,153.8 606.8,148.8 608.7,145.2 C610.6,141.6 611.1,138.4 612.2,136.5 C613.4,134.6 615.0,134.2 615.6,133.7" fill="none" stroke="#9fb3cc" stroke-width="0.8"/>
<path d="M615.6,133.7 L622.5,135.3 L629.3,137.4 L636.1,139.4 L642.9,141.5 L649.7,143.6 L656.5,145.6 L663.3,147.7 L670.0,149.9 L676.8,152.0 L683.6,154.1 L690.4,156.2 L697.1,158.4 L703.9,160.5 L710.6,162.7 L717.4,164.9 L724.2,167.0 L730.9,169.2 L737.7,171.4 L744.4,173.6 L751.2,175.8 L757.9,178.0 L764.7,180.2 L771.4,182.4 L778.1,184.7 L784.9,186.9 L791.6,189.1 L798.4,191.3 L805.1,193.6 L811.8,195.8 L818.6,198.1 L825.3,200.3 L832.1,202.6 L838.8,204.8 L845.5,207.1 L852.3,209.3 L859.0,211.6 L865.7,213.8 L872.5,216.1 L879.2,218.3 L885.9,220.5 L892.7,222.8 L899.4,225.0 L906.1,227.3 L912.9,229.5 L919.6,231.8 L926.3,234.0 L933.1,236.2 L939.8,238.5 L946.6,240.7 L953.3,242.9 L960.1,245.1 L966.8,247.3 L973.6,249.5 L980.3,251.7 L987.1,253.9 L993.8,256.1 L1000.6,258.3 L1007.3,260.5 L1014.0,262.9 L1014,262.9 L1015,263.5 L1008.7,265 L1008.7,265.0 L1002.1,262.9 L995.4,260.9 L988.7,259.0 L982.0,257.0 L975.4,255.0 L968.7,253.0 L962.0,251.0 L955.4,249.0 L948.7,246.9 L942.1,244.9 L935.4,242.8 L928.8,240.8 L922.2,238.7 L915.5,236.6 L908.9,234.5 L902.2,232.4 L895.6,230.3 L889.0,228.2 L882.4,226.1 L875.7,224.0 L869.1,221.8 L862.5,219.7 L855.9,217.6 L849.3,215.4 L842.6,213.2 L836.0,211.1 L829.4,208.9 L822.8,206.8 L816.2,204.6 L809.6,202.4 L803.0,200.2 L796.4,198.0 L789.8,195.9 L783.2,193.7 L776.6,191.5 L770.0,189.3 L763.4,187.1 L756.8,184.9 L750.2,182.7 L743.5,180.5 L736.9,178.4 L730.3,176.2 L723.7,174.0 L717.1,171.8 L710.5,169.6 L703.9,167.4 L697.3,165.2 L690.7,163.1 L684.1,160.9 L677.5,158.7 L670.9,156.6 L664.3,154.4 L657.6,152.2 L651.0,150.1 L644.4,147.9 L637.8,145.8 L631.2,143.7 L624.6,141.5 L617.9,139.5 Z" fill="url(#gTopStrip)"/>
<path d="M615.6,133.7 L622.5,135.3 L629.3,137.4 L636.1,139.4 L642.9,141.5 L649.7,143.6 L656.5,145.6 L663.3,147.7 L670.0,149.9 L676.8,152.0 L683.6,154.1 L690.4,156.2 L697.1,158.4 L703.9,160.5 L710.6,162.7 L717.4,164.9 L724.2,167.0 L730.9,169.2 L737.7,171.4 L744.4,173.6 L751.2,175.8 L757.9,178.0 L764.7,180.2 L771.4,182.4 L778.1,184.7 L784.9,186.9 L791.6,189.1 L798.4,191.3 L805.1,193.6 L811.8,195.8 L818.6,198.1 L825.3,200.3 L832.1,202.6 L838.8,204.8 L845.5,207.1 L852.3,209.3 L859.0,211.6 L865.7,213.8 L872.5,216.1 L879.2,218.3 L885.9,220.5 L892.7,222.8 L899.4,225.0 L906.1,227.3 L912.9,229.5 L919.6,231.8 L926.3,234.0 L933.1,236.2 L939.8,238.5 L946.6,240.7 L953.3,242.9 L960.1,245.1 L966.8,247.3 L973.6,249.5 L980.3,251.7 L987.1,253.9 L993.8,256.1 L1000.6,258.3 L1007.3,260.5 L1014.0,262.9" fill="none" stroke="#a9b4c6" stroke-width="0.8"/>
<circle cx="334.6" cy="689" r="0.9" fill="#555"/><circle cx="507" cy="689" r="0.9" fill="#555"/><circle cx="703" cy="689" r="0.8" fill="#999"/><line x1="169.9" y1="127.5" x2="169.9" y2="401.3" stroke="#252224" stroke-width="1.8"/>
<line x1="332.4" y1="127.5" x2="332.4" y2="377.0" stroke="#252224" stroke-width="1.8"/>
<line x1="502.6" y1="127.5" x2="502.6" y2="377.2" stroke="#252224" stroke-width="1.8"/>
<line x1="699.2" y1="127.5" x2="699.2" y2="348.7" stroke="#252224" stroke-width="1.8"/>
<line x1="888.5" y1="127.5" x2="888.5" y2="298.0" stroke="#252224" stroke-width="1.8"/>
<g opacity="0.995" transform="scale(0.820 1)" font-family="&quot;Liberation Sans&quot;, sans-serif" font-size="19.8" fill="#2c2c2e" stroke="#2c2c2e" stroke-width="0.2"><text x="97.07" y="49.2" textLength="128.29" lengthAdjust="spacing">Vinyl backing</text>
<text x="97.07" y="68.9" textLength="141.95" lengthAdjust="spacing">layer with high</text>
<text x="97.07" y="88.6" textLength="124.88" lengthAdjust="spacing">resistance to</text>
<text x="97.07" y="108.3" textLength="84.02" lengthAdjust="spacing">pressure</text>
<text x="303.54" y="49.2" textLength="169.63" lengthAdjust="spacing">Middle vinyl layer</text>
<text x="303.54" y="68.9" textLength="160.73" lengthAdjust="spacing">for extra stability</text>
<text x="303.54" y="88.6" textLength="114.76" lengthAdjust="spacing">and support</text>
<text x="526.46" y="49.2" textLength="145.49" lengthAdjust="spacing">Printed layer to</text>
<text x="526.46" y="68.9" textLength="163.41" lengthAdjust="spacing">recreate the look</text>
<text x="526.46" y="88.6" textLength="132.80" lengthAdjust="spacing">and texture of</text>
<text x="526.46" y="108.3" textLength="162.56" lengthAdjust="spacing">natural materials</text>
<text x="745.98" y="49.2" textLength="165.00" lengthAdjust="spacing">Transparent vinyl</text>
<text x="745.98" y="68.9" textLength="159.88" lengthAdjust="spacing">wear layer that’s</text>
<text x="745.98" y="88.6" textLength="173.41" lengthAdjust="spacing">extremely durable</text>
<text x="969.02" y="49.2" textLength="257.80" lengthAdjust="spacing">AMP PU coating for added</text>
<text x="969.02" y="68.9" textLength="286.22" lengthAdjust="spacing">scratch, stain, scuff, abrasion</text>
<text x="969.02" y="88.6" textLength="191.71" lengthAdjust="spacing">and fade resistance</text></g>
<g fill="#bed32b">
<path d="M46.3,623 L68.3,562.6 L85.6,562.6 L104.5,623 L87.2,623 L84.3,609.3 L68.6,609.3 L63.6,623 Z M69.6,599.9 L83,599.9 L76.3,578.6 Z" fill-rule="evenodd"/>
<path d="M92.7,562.6 L110,562.6 L120.3,603.8 L130.5,562.6 L147,562.6 L129,623 L111.6,623 Z"/>
<path d="M134.4,623 L157.3,562.6 L173.8,562.6 L193.5,623 L176,623 L172.8,609.3 L156.2,609.3 L152.5,623 Z M158.3,599.9 L172,599.9 L165,578.6 Z" fill-rule="evenodd"/>
<circle cx="201.5" cy="618.5" r="3.6" fill="none" stroke="#bed32b" stroke-width="0.9"/>
<text x="199.6" y="620.4" font-family="&quot;Liberation Sans&quot;, sans-serif" font-size="5" fill="#bed32b">R</text>
</g>
<text opacity="0.995" x="45" y="664" font-family="&quot;Liberation Sans&quot;, sans-serif" font-weight="bold" font-size="37" fill="#6c6c6e" stroke="#6c6c6e" stroke-width="0.5" textLength="253.3" lengthAdjust="spacingAndGlyphs">Glue Down LVT</text>

</svg>
</body></html>
